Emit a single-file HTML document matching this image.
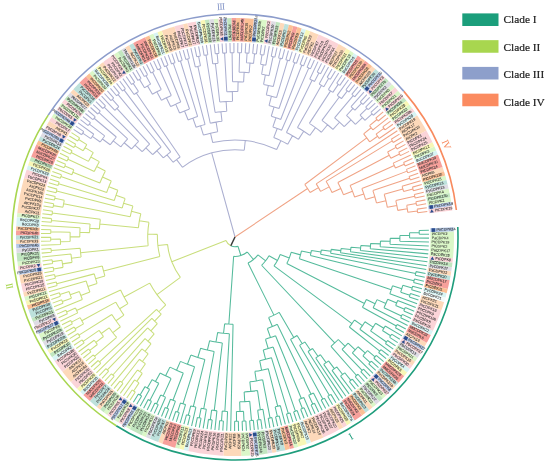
<!DOCTYPE html>
<html><head><meta charset="utf-8"><title>Phylogenetic tree</title>
<style>html,body{margin:0;padding:0;background:#fff;overflow:hidden;} svg{display:block;filter:blur(0.3px);}</style></head>
<body>
<svg width="550" height="468" viewBox="0 0 550 468">
<rect width="550" height="468" fill="#ffffff"/>
<path d="M430.30,228.19L453.78,227.13A219.0,219.0 0 0 1 453.93,231.58L430.44,232.17A195.5,195.5 0 0 0 430.30,228.19ZM404.20,334.94L424.54,346.72A219.0,219.0 0 0 1 422.26,350.55L402.17,338.36A195.5,195.5 0 0 0 404.20,334.94ZM375.50,372.95L392.38,389.29A219.0,219.0 0 0 1 389.25,392.46L372.70,375.78A195.5,195.5 0 0 0 375.50,372.95ZM256.45,431.32L259.03,454.68A219.0,219.0 0 0 1 254.59,455.12L252.49,431.72A195.5,195.5 0 0 0 256.45,431.32ZM137.70,406.57L126.01,426.95A219.0,219.0 0 0 1 122.16,424.69L134.27,404.55A195.5,195.5 0 0 0 137.70,406.57ZM127.54,400.32L114.62,419.95A219.0,219.0 0 0 1 110.92,417.46L124.24,398.10A195.5,195.5 0 0 0 127.54,400.32ZM59.80,323.74L38.74,334.17A219.0,219.0 0 0 1 36.80,330.15L58.07,320.16A195.5,195.5 0 0 0 59.80,323.74ZM42.48,271.00L19.34,275.09A219.0,219.0 0 0 1 18.61,270.69L41.83,267.07A195.5,195.5 0 0 0 42.48,271.00ZM39.77,247.30L16.30,248.53A219.0,219.0 0 0 1 16.11,244.08L39.60,243.32A195.5,195.5 0 0 0 39.77,247.30ZM63.13,143.83L42.47,132.63A219.0,219.0 0 0 1 44.64,128.73L65.06,140.35A195.5,195.5 0 0 0 63.13,143.83ZM73.48,126.85L54.07,113.61A219.0,219.0 0 0 1 56.62,109.95L75.76,123.59A195.5,195.5 0 0 0 73.48,126.85ZM223.96,41.81L222.63,18.35A219.0,219.0 0 0 1 227.09,18.14L227.94,41.63A195.5,195.5 0 0 0 223.96,41.81ZM251.78,42.22L253.80,18.81A219.0,219.0 0 0 1 258.24,19.24L255.74,42.60A195.5,195.5 0 0 0 251.78,42.22ZM363.44,89.61L378.88,71.90A219.0,219.0 0 0 1 382.21,74.86L366.41,92.26A195.5,195.5 0 0 0 363.44,89.61ZM427.94,205.46L451.13,201.67A219.0,219.0 0 0 1 451.80,206.07L428.54,209.39A195.5,195.5 0 0 0 427.94,205.46Z" fill="#b4c8e8"/>
<path d="M430.44,232.17L453.93,231.58A219.0,219.0 0 0 1 454.00,236.04L430.50,236.14A195.5,195.5 0 0 0 430.44,232.17ZM430.50,236.14L454.00,236.04A219.0,219.0 0 0 1 453.97,240.50L430.48,240.12A195.5,195.5 0 0 0 430.50,236.14ZM430.48,240.12L453.97,240.50A219.0,219.0 0 0 1 453.86,244.95L430.37,244.10A195.5,195.5 0 0 0 430.48,240.12ZM430.37,244.10L453.86,244.95A219.0,219.0 0 0 1 453.65,249.40L430.19,248.07A195.5,195.5 0 0 0 430.37,244.10ZM430.19,248.07L453.65,249.40A219.0,219.0 0 0 1 453.35,253.85L429.92,252.04A195.5,195.5 0 0 0 430.19,248.07ZM429.92,252.04L453.35,253.85A219.0,219.0 0 0 1 452.96,258.29L429.57,256.01A195.5,195.5 0 0 0 429.92,252.04ZM397.91,345.08L417.49,358.07A219.0,219.0 0 0 1 414.99,361.76L395.67,348.38A195.5,195.5 0 0 0 397.91,345.08ZM369.85,378.55L386.06,395.56A219.0,219.0 0 0 1 382.80,398.61L366.94,381.26A195.5,195.5 0 0 0 369.85,378.55ZM360.96,386.51L376.10,404.49A219.0,219.0 0 0 1 372.66,407.32L357.89,389.05A195.5,195.5 0 0 0 360.96,386.51ZM291.48,424.16L298.27,446.66A219.0,219.0 0 0 1 293.99,447.90L287.66,425.27A195.5,195.5 0 0 0 291.48,424.16ZM248.53,432.03L250.15,455.48A219.0,219.0 0 0 1 245.70,455.74L244.55,432.27A195.5,195.5 0 0 0 248.53,432.03ZM244.55,432.27L245.70,455.74A219.0,219.0 0 0 1 241.25,455.91L240.58,432.42A195.5,195.5 0 0 0 244.55,432.27ZM185.43,426.11L179.47,448.84A219.0,219.0 0 0 1 175.17,447.67L181.59,425.06A195.5,195.5 0 0 0 185.43,426.11ZM155.43,415.57L145.87,437.04A219.0,219.0 0 0 1 141.81,435.18L151.81,413.92A195.5,195.5 0 0 0 155.43,415.57ZM141.17,408.51L129.89,429.13A219.0,219.0 0 0 1 126.01,426.95L137.70,406.57A195.5,195.5 0 0 0 141.17,408.51ZM130.88,402.47L118.37,422.36A219.0,219.0 0 0 1 114.62,419.95L127.54,400.32A195.5,195.5 0 0 0 130.88,402.47ZM120.98,395.81L107.28,414.90A219.0,219.0 0 0 1 103.68,412.26L117.77,393.46A195.5,195.5 0 0 0 120.98,395.81ZM61.60,327.29L40.75,338.14A219.0,219.0 0 0 1 38.74,334.17L59.80,323.74A195.5,195.5 0 0 0 61.60,327.29ZM48.05,294.19L25.58,301.07A219.0,219.0 0 0 1 24.32,296.79L46.93,290.38A195.5,195.5 0 0 0 48.05,294.19ZM41.26,263.14L17.97,266.28A219.0,219.0 0 0 1 17.42,261.86L40.76,259.19A195.5,195.5 0 0 0 41.26,263.14ZM40.29,219.48L16.88,217.37A219.0,219.0 0 0 1 17.33,212.93L40.68,215.52A195.5,195.5 0 0 0 40.29,219.48ZM71.28,130.16L51.60,117.32A219.0,219.0 0 0 1 54.07,113.61L73.48,126.85A195.5,195.5 0 0 0 71.28,130.16ZM78.10,120.37L59.24,106.35A219.0,219.0 0 0 1 61.93,102.80L80.51,117.20A195.5,195.5 0 0 0 78.10,120.37ZM104.91,91.07L89.27,73.52A219.0,219.0 0 0 1 92.63,70.59L107.91,88.45A195.5,195.5 0 0 0 104.91,91.07ZM126.95,74.08L113.96,54.49A219.0,219.0 0 0 1 117.70,52.07L130.28,71.91A195.5,195.5 0 0 0 126.95,74.08ZM158.43,57.12L149.22,35.50A219.0,219.0 0 0 1 153.34,33.79L162.10,55.60A195.5,195.5 0 0 0 158.43,57.12ZM216.03,42.42L213.75,19.03A219.0,219.0 0 0 1 218.19,18.65L219.99,42.08A195.5,195.5 0 0 0 216.03,42.42ZM255.74,42.60L258.24,19.24A219.0,219.0 0 0 1 262.66,19.75L259.70,43.07A195.5,195.5 0 0 0 255.74,42.60ZM259.70,43.07L262.66,19.75A219.0,219.0 0 0 1 267.08,20.36L263.64,43.61A195.5,195.5 0 0 0 259.70,43.07ZM337.85,70.74L350.22,50.76A219.0,219.0 0 0 1 353.98,53.14L341.22,72.87A195.5,195.5 0 0 0 337.85,70.74ZM375.00,100.55L391.83,84.14A219.0,219.0 0 0 1 394.91,87.37L377.75,103.42A195.5,195.5 0 0 0 375.00,100.55ZM380.44,106.35L397.92,90.65A219.0,219.0 0 0 1 400.86,94.00L383.07,109.34A195.5,195.5 0 0 0 380.44,106.35ZM390.58,118.61L409.28,104.38A219.0,219.0 0 0 1 411.94,107.96L392.96,121.80A195.5,195.5 0 0 0 390.58,118.61ZM412.98,156.10L434.37,146.38A219.0,219.0 0 0 1 436.17,150.46L414.59,159.74A195.5,195.5 0 0 0 412.98,156.10ZM422.66,182.19L445.22,175.60A219.0,219.0 0 0 1 446.42,179.89L423.74,186.02A195.5,195.5 0 0 0 422.66,182.19ZM425.65,193.74L448.57,188.54A219.0,219.0 0 0 1 449.51,192.90L426.50,197.63A195.5,195.5 0 0 0 425.65,193.74ZM427.26,201.54L450.37,197.27A219.0,219.0 0 0 1 451.13,201.67L427.94,205.46A195.5,195.5 0 0 0 427.26,201.54Z" fill="#dbf7c8"/>
<path d="M429.57,256.01L452.96,258.29A219.0,219.0 0 0 1 452.48,262.72L429.15,259.96A195.5,195.5 0 0 0 429.57,256.01ZM419.21,302.49L441.35,310.36A219.0,219.0 0 0 1 439.81,314.54L417.83,306.22A195.5,195.5 0 0 0 419.21,302.49ZM417.83,306.22L439.81,314.54A219.0,219.0 0 0 1 438.19,318.69L416.39,309.93A195.5,195.5 0 0 0 417.83,306.22ZM416.39,309.93L438.19,318.69A219.0,219.0 0 0 1 436.49,322.81L414.87,313.60A195.5,195.5 0 0 0 416.39,309.93ZM414.87,313.60L436.49,322.81A219.0,219.0 0 0 1 434.70,326.90L413.27,317.25A195.5,195.5 0 0 0 414.87,313.60ZM413.27,317.25L434.70,326.90A219.0,219.0 0 0 1 432.83,330.94L411.60,320.86A195.5,195.5 0 0 0 413.27,317.25ZM402.17,338.36L422.26,350.55A219.0,219.0 0 0 1 419.91,354.34L400.07,341.75A195.5,195.5 0 0 0 402.17,338.36ZM393.37,351.62L412.41,365.40A219.0,219.0 0 0 1 409.76,368.98L391.01,354.82A195.5,195.5 0 0 0 393.37,351.62ZM372.70,375.78L389.25,392.46A219.0,219.0 0 0 1 386.06,395.56L369.85,378.55A195.5,195.5 0 0 0 372.70,375.78ZM335.06,404.95L347.09,425.14A219.0,219.0 0 0 1 343.24,427.38L331.62,406.95A195.5,195.5 0 0 0 335.06,404.95ZM328.14,408.89L339.34,429.55A219.0,219.0 0 0 1 335.40,431.63L324.63,410.75A195.5,195.5 0 0 0 328.14,408.89ZM324.63,410.75L335.40,431.63A219.0,219.0 0 0 1 331.42,433.63L321.07,412.53A195.5,195.5 0 0 0 324.63,410.75ZM321.07,412.53L331.42,433.63A219.0,219.0 0 0 1 327.40,435.55L317.48,414.25A195.5,195.5 0 0 0 321.07,412.53ZM317.48,414.25L327.40,435.55A219.0,219.0 0 0 1 323.34,437.39L313.86,415.89A195.5,195.5 0 0 0 317.48,414.25ZM252.49,431.72L254.59,455.12A219.0,219.0 0 0 1 250.15,455.48L248.53,432.03A195.5,195.5 0 0 0 252.49,431.72ZM224.67,432.23L223.43,455.69A219.0,219.0 0 0 1 218.98,455.41L220.70,431.98A195.5,195.5 0 0 0 224.67,432.23ZM220.70,431.98L218.98,455.41A219.0,219.0 0 0 1 214.54,455.04L216.73,431.64A195.5,195.5 0 0 0 220.70,431.98ZM216.73,431.64L214.54,455.04A219.0,219.0 0 0 1 210.11,454.58L212.78,431.23A195.5,195.5 0 0 0 216.73,431.64ZM212.78,431.23L210.11,454.58A219.0,219.0 0 0 1 205.68,454.03L208.83,430.74A195.5,195.5 0 0 0 212.78,431.23ZM208.83,430.74L205.68,454.03A219.0,219.0 0 0 1 201.27,453.39L204.89,430.17A195.5,195.5 0 0 0 208.83,430.74ZM204.89,430.17L201.27,453.39A219.0,219.0 0 0 1 196.88,452.66L200.97,429.52A195.5,195.5 0 0 0 204.89,430.17ZM200.97,429.52L196.88,452.66A219.0,219.0 0 0 1 192.50,451.84L197.06,428.78A195.5,195.5 0 0 0 200.97,429.52ZM197.06,428.78L192.50,451.84A219.0,219.0 0 0 1 188.13,450.93L193.16,427.97A195.5,195.5 0 0 0 197.06,428.78ZM134.27,404.55L122.16,424.69A219.0,219.0 0 0 1 118.37,422.36L130.88,402.47A195.5,195.5 0 0 0 134.27,404.55ZM124.24,398.10L110.92,417.46A219.0,219.0 0 0 1 107.28,414.90L120.98,395.81A195.5,195.5 0 0 0 124.24,398.10ZM93.96,372.39L77.01,388.66A219.0,219.0 0 0 1 73.96,385.41L91.24,369.49A195.5,195.5 0 0 0 93.96,372.39ZM91.24,369.49L73.96,385.41A219.0,219.0 0 0 1 70.97,382.11L88.57,366.53A195.5,195.5 0 0 0 91.24,369.49ZM80.94,357.36L62.42,371.83A219.0,219.0 0 0 1 59.72,368.29L78.52,354.20A195.5,195.5 0 0 0 80.94,357.36ZM78.52,354.20L59.72,368.29A219.0,219.0 0 0 1 57.08,364.69L76.17,350.99A195.5,195.5 0 0 0 78.52,354.20ZM76.17,350.99L57.08,364.69A219.0,219.0 0 0 1 54.52,361.05L73.89,347.74A195.5,195.5 0 0 0 76.17,350.99ZM58.07,320.16L36.80,330.15A219.0,219.0 0 0 1 34.94,326.10L56.41,316.54A195.5,195.5 0 0 0 58.07,320.16ZM45.88,286.54L23.15,292.50A219.0,219.0 0 0 1 22.06,288.17L44.91,282.68A195.5,195.5 0 0 0 45.88,286.54ZM44.91,282.68L22.06,288.17A219.0,219.0 0 0 1 21.07,283.83L44.02,278.80A195.5,195.5 0 0 0 44.91,282.68ZM41.83,267.07L18.61,270.69A219.0,219.0 0 0 1 17.97,266.28L41.26,263.14A195.5,195.5 0 0 0 41.83,267.07ZM46.74,184.30L24.11,177.97A219.0,219.0 0 0 1 25.35,173.69L47.85,180.48A195.5,195.5 0 0 0 46.74,184.30ZM47.85,180.48L25.35,173.69A219.0,219.0 0 0 1 26.68,169.44L49.04,176.69A195.5,195.5 0 0 0 47.85,180.48ZM65.06,140.35L44.64,128.73A219.0,219.0 0 0 1 46.88,124.88L67.06,136.91A195.5,195.5 0 0 0 65.06,140.35ZM69.14,133.51L49.20,121.07A219.0,219.0 0 0 1 51.60,117.32L71.28,130.16A195.5,195.5 0 0 0 69.14,133.51ZM75.76,123.59L56.62,109.95A219.0,219.0 0 0 1 59.24,106.35L78.10,120.37A195.5,195.5 0 0 0 75.76,123.59ZM80.51,117.20L61.93,102.80A219.0,219.0 0 0 1 64.70,99.31L82.98,114.08A195.5,195.5 0 0 0 80.51,117.20ZM117.21,80.97L103.05,62.22A219.0,219.0 0 0 1 106.63,59.57L120.41,78.61A195.5,195.5 0 0 0 117.21,80.97ZM120.41,78.61L106.63,59.57A219.0,219.0 0 0 1 110.27,56.99L123.65,76.31A195.5,195.5 0 0 0 120.41,78.61ZM123.65,76.31L110.27,56.99A219.0,219.0 0 0 1 113.96,54.49L126.95,74.08A195.5,195.5 0 0 0 123.65,76.31ZM180.91,49.13L174.40,26.55A219.0,219.0 0 0 1 178.70,25.36L184.74,48.07A195.5,195.5 0 0 0 180.91,49.13ZM184.74,48.07L178.70,25.36A219.0,219.0 0 0 1 183.02,24.26L188.60,47.09A195.5,195.5 0 0 0 184.74,48.07ZM192.47,46.18L187.36,23.25A219.0,219.0 0 0 1 191.72,22.32L196.36,45.36A195.5,195.5 0 0 0 192.47,46.18ZM196.36,45.36L191.72,22.32A219.0,219.0 0 0 1 196.09,21.48L200.27,44.61A195.5,195.5 0 0 0 196.36,45.36ZM219.99,42.08L218.19,18.65A219.0,219.0 0 0 1 222.63,18.35L223.96,41.81A195.5,195.5 0 0 0 219.99,42.08ZM263.64,43.61L267.08,20.36A219.0,219.0 0 0 1 271.48,21.06L267.57,44.23A195.5,195.5 0 0 0 263.64,43.61ZM309.55,56.27L318.51,34.55A219.0,219.0 0 0 1 322.61,36.29L313.21,57.83A195.5,195.5 0 0 0 309.55,56.27ZM313.21,57.83L322.61,36.29A219.0,219.0 0 0 1 326.68,38.11L316.84,59.45A195.5,195.5 0 0 0 313.21,57.83ZM316.84,59.45L326.68,38.11A219.0,219.0 0 0 1 330.70,40.02L320.43,61.16A195.5,195.5 0 0 0 316.84,59.45ZM320.43,61.16L330.70,40.02A219.0,219.0 0 0 1 334.69,42.01L324.00,62.93A195.5,195.5 0 0 0 320.43,61.16ZM324.00,62.93L334.69,42.01A219.0,219.0 0 0 1 338.64,44.08L327.52,64.78A195.5,195.5 0 0 0 324.00,62.93ZM366.41,92.26L382.21,74.86A219.0,219.0 0 0 1 385.48,77.89L369.33,94.96A195.5,195.5 0 0 0 366.41,92.26ZM377.75,103.42L394.91,87.37A219.0,219.0 0 0 1 397.92,90.65L380.44,106.35A195.5,195.5 0 0 0 377.75,103.42ZM383.07,109.34L400.86,94.00A219.0,219.0 0 0 1 403.74,97.40L385.63,112.38A195.5,195.5 0 0 0 383.07,109.34ZM392.96,121.80L411.94,107.96A219.0,219.0 0 0 1 414.53,111.58L395.27,125.04A195.5,195.5 0 0 0 392.96,121.80ZM405.81,141.90L426.34,130.47A219.0,219.0 0 0 1 428.47,134.38L407.71,145.40A195.5,195.5 0 0 0 405.81,141.90ZM407.71,145.40L428.47,134.38A219.0,219.0 0 0 1 430.52,138.34L409.54,148.93A195.5,195.5 0 0 0 407.71,145.40ZM409.54,148.93L430.52,138.34A219.0,219.0 0 0 1 432.49,142.34L411.29,152.50A195.5,195.5 0 0 0 409.54,148.93ZM428.54,209.39L451.80,206.07A219.0,219.0 0 0 1 452.39,210.49L429.06,213.33A195.5,195.5 0 0 0 428.54,209.39Z" fill="#fbd4d8"/>
<path d="M429.15,259.96L452.48,262.72A219.0,219.0 0 0 1 451.92,267.14L428.64,263.91A195.5,195.5 0 0 0 429.15,259.96ZM366.94,381.26L382.80,398.61A219.0,219.0 0 0 1 379.48,401.58L363.98,383.92A195.5,195.5 0 0 0 366.94,381.26ZM264.34,430.29L267.87,453.52A219.0,219.0 0 0 1 263.45,454.14L260.40,430.84A195.5,195.5 0 0 0 264.34,430.29ZM260.40,430.84L263.45,454.14A219.0,219.0 0 0 1 259.03,454.68L256.45,431.32A195.5,195.5 0 0 0 260.40,430.84ZM151.81,413.92L141.81,435.18A219.0,219.0 0 0 1 137.80,433.25L148.23,412.19A195.5,195.5 0 0 0 151.81,413.92ZM148.23,412.19L137.80,433.25A219.0,219.0 0 0 1 133.83,431.23L144.68,410.39A195.5,195.5 0 0 0 148.23,412.19ZM144.68,410.39L133.83,431.23A219.0,219.0 0 0 1 129.89,429.13L141.17,408.51A195.5,195.5 0 0 0 144.68,410.39ZM117.77,393.46L103.68,412.26A219.0,219.0 0 0 1 100.14,409.55L114.61,391.04A195.5,195.5 0 0 0 117.77,393.46ZM71.67,344.43L52.03,357.35A219.0,219.0 0 0 1 49.62,353.60L69.51,341.09A195.5,195.5 0 0 0 71.67,344.43ZM63.47,330.80L42.85,342.07A219.0,219.0 0 0 1 40.75,338.14L61.60,327.29A195.5,195.5 0 0 0 63.47,330.80ZM54.83,312.89L33.17,322.01A219.0,219.0 0 0 1 31.48,317.89L53.32,309.21A195.5,195.5 0 0 0 54.83,312.89ZM40.76,259.19L17.42,261.86A219.0,219.0 0 0 1 16.95,257.42L40.35,255.23A195.5,195.5 0 0 0 40.76,259.19ZM40.35,255.23L16.95,257.42A219.0,219.0 0 0 1 16.58,252.98L40.02,251.27A195.5,195.5 0 0 0 40.35,255.23ZM51.64,169.17L29.60,161.02A219.0,219.0 0 0 1 31.19,156.85L53.06,165.45A195.5,195.5 0 0 0 51.64,169.17ZM82.98,114.08L64.70,99.31A219.0,219.0 0 0 1 67.54,95.87L85.51,111.01A195.5,195.5 0 0 0 82.98,114.08ZM130.28,71.91L117.70,52.07A219.0,219.0 0 0 1 121.48,49.72L133.66,69.81A195.5,195.5 0 0 0 130.28,71.91ZM208.13,43.36L204.90,20.08A219.0,219.0 0 0 1 209.32,19.51L212.07,42.85A195.5,195.5 0 0 0 208.13,43.36ZM227.94,41.63L227.09,18.14A219.0,219.0 0 0 1 231.54,18.03L231.91,41.52A195.5,195.5 0 0 0 227.94,41.63ZM271.48,44.93L275.87,21.85A219.0,219.0 0 0 1 280.24,22.72L275.38,45.72A195.5,195.5 0 0 0 271.48,44.93ZM369.33,94.96L385.48,77.89A219.0,219.0 0 0 1 388.69,80.98L372.20,97.72A195.5,195.5 0 0 0 369.33,94.96ZM385.63,112.38L403.74,97.40A219.0,219.0 0 0 1 406.55,100.86L388.14,115.47A195.5,195.5 0 0 0 385.63,112.38ZM426.50,197.63L449.51,192.90A219.0,219.0 0 0 1 450.37,197.27L427.26,201.54A195.5,195.5 0 0 0 426.50,197.63Z" fill="#c2e6c0"/>
<path d="M428.64,263.91L451.92,267.14A219.0,219.0 0 0 1 451.26,271.55L428.05,267.84A195.5,195.5 0 0 0 428.64,263.91ZM400.07,341.75L419.91,354.34A219.0,219.0 0 0 1 417.49,358.07L397.91,345.08A195.5,195.5 0 0 0 400.07,341.75ZM363.98,383.92L379.48,401.58A219.0,219.0 0 0 1 376.10,404.49L360.96,386.51A195.5,195.5 0 0 0 363.98,383.92ZM268.27,429.65L272.26,452.81A219.0,219.0 0 0 1 267.87,453.52L264.34,430.29A195.5,195.5 0 0 0 268.27,429.65ZM159.08,417.16L149.95,438.81A219.0,219.0 0 0 1 145.87,437.04L155.43,415.57A195.5,195.5 0 0 0 159.08,417.16ZM65.41,334.27L45.03,345.96A219.0,219.0 0 0 1 42.85,342.07L63.47,330.80A195.5,195.5 0 0 0 65.41,334.27ZM56.41,316.54L34.94,326.10A219.0,219.0 0 0 1 33.17,322.01L54.83,312.89A195.5,195.5 0 0 0 56.41,316.54ZM40.02,251.27L16.58,252.98A219.0,219.0 0 0 1 16.30,248.53L39.77,247.30A195.5,195.5 0 0 0 40.02,251.27ZM61.27,147.34L40.39,136.57A219.0,219.0 0 0 1 42.47,132.63L63.13,143.83A195.5,195.5 0 0 0 61.27,147.34ZM85.51,111.01L67.54,95.87A219.0,219.0 0 0 1 70.45,92.49L88.10,108.00A195.5,195.5 0 0 0 85.51,111.01ZM133.66,69.81L121.48,49.72A219.0,219.0 0 0 1 125.32,47.45L137.09,67.79A195.5,195.5 0 0 0 133.66,69.81ZM212.07,42.85L209.32,19.51A219.0,219.0 0 0 1 213.75,19.03L216.03,42.42A195.5,195.5 0 0 0 212.07,42.85ZM267.57,44.23L271.48,21.06A219.0,219.0 0 0 1 275.87,21.85L271.48,44.93A195.5,195.5 0 0 0 267.57,44.23ZM372.20,97.72L388.69,80.98A219.0,219.0 0 0 1 391.83,84.14L375.00,100.55A195.5,195.5 0 0 0 372.20,97.72ZM424.73,189.87L447.54,184.21A219.0,219.0 0 0 1 448.57,188.54L425.65,193.74A195.5,195.5 0 0 0 424.73,189.87Z" fill="#dedce4"/>
<path d="M428.05,267.84L451.26,271.55A219.0,219.0 0 0 1 450.51,275.94L427.38,271.76A195.5,195.5 0 0 0 428.05,267.84ZM421.72,294.94L444.16,301.90A219.0,219.0 0 0 1 442.80,306.15L420.50,298.73A195.5,195.5 0 0 0 421.72,294.94ZM420.50,298.73L442.80,306.15A219.0,219.0 0 0 1 441.35,310.36L419.21,302.49A195.5,195.5 0 0 0 420.50,298.73ZM406.15,331.48L426.73,342.84A219.0,219.0 0 0 1 424.54,346.72L404.20,334.94A195.5,195.5 0 0 0 406.15,331.48ZM395.67,348.38L414.99,361.76A219.0,219.0 0 0 1 412.41,365.40L393.37,351.62A195.5,195.5 0 0 0 395.67,348.38ZM378.23,370.06L395.45,386.05A219.0,219.0 0 0 1 392.38,389.29L375.50,372.95A195.5,195.5 0 0 0 378.23,370.06ZM357.89,389.05L372.66,407.32A219.0,219.0 0 0 1 369.17,410.09L354.77,391.52A195.5,195.5 0 0 0 357.89,389.05ZM331.62,406.95L343.24,427.38A219.0,219.0 0 0 1 339.34,429.55L328.14,408.89A195.5,195.5 0 0 0 331.62,406.95ZM313.86,415.89L323.34,437.39A219.0,219.0 0 0 1 319.24,439.15L310.20,417.46A195.5,195.5 0 0 0 313.86,415.89ZM310.20,417.46L319.24,439.15A219.0,219.0 0 0 1 315.11,440.82L306.51,418.95A195.5,195.5 0 0 0 310.20,417.46ZM306.51,418.95L315.11,440.82A219.0,219.0 0 0 1 310.95,442.41L302.80,420.37A195.5,195.5 0 0 0 306.51,418.95ZM272.18,428.93L276.65,452.00A219.0,219.0 0 0 1 272.26,452.81L268.27,429.65A195.5,195.5 0 0 0 272.18,428.93ZM240.58,432.42L241.25,455.91A219.0,219.0 0 0 1 236.79,455.99L236.60,432.49A195.5,195.5 0 0 0 240.58,432.42ZM236.60,432.49L236.79,455.99A219.0,219.0 0 0 1 232.34,455.98L232.62,432.49A195.5,195.5 0 0 0 236.60,432.49ZM232.62,432.49L232.34,455.98A219.0,219.0 0 0 1 227.88,455.88L228.64,432.40A195.5,195.5 0 0 0 232.62,432.49ZM228.64,432.40L227.88,455.88A219.0,219.0 0 0 1 223.43,455.69L224.67,432.23A195.5,195.5 0 0 0 228.64,432.40ZM170.21,421.45L162.43,443.63A219.0,219.0 0 0 1 158.24,442.11L166.47,420.10A195.5,195.5 0 0 0 170.21,421.45ZM114.61,391.04L100.14,409.55A219.0,219.0 0 0 1 96.66,406.77L111.50,388.56A195.5,195.5 0 0 0 114.61,391.04ZM88.57,366.53L70.97,382.11A219.0,219.0 0 0 1 68.05,378.74L85.97,363.53A195.5,195.5 0 0 0 88.57,366.53ZM85.97,363.53L68.05,378.74A219.0,219.0 0 0 1 65.20,375.31L83.42,360.47A195.5,195.5 0 0 0 85.97,363.53ZM83.42,360.47L65.20,375.31A219.0,219.0 0 0 1 62.42,371.83L80.94,357.36A195.5,195.5 0 0 0 83.42,360.47ZM46.93,290.38L24.32,296.79A219.0,219.0 0 0 1 23.15,292.50L45.88,286.54A195.5,195.5 0 0 0 46.93,290.38ZM44.02,278.80L21.07,283.83A219.0,219.0 0 0 1 20.16,279.47L43.21,274.91A195.5,195.5 0 0 0 44.02,278.80ZM43.21,274.91L20.16,279.47A219.0,219.0 0 0 1 19.34,275.09L42.48,271.00A195.5,195.5 0 0 0 43.21,274.91ZM39.60,243.32L16.11,244.08A219.0,219.0 0 0 1 16.02,239.63L39.51,239.34A195.5,195.5 0 0 0 39.60,243.32ZM40.68,215.52L17.33,212.93A219.0,219.0 0 0 1 17.86,208.51L41.16,211.57A195.5,195.5 0 0 0 40.68,215.52ZM41.16,211.57L17.86,208.51A219.0,219.0 0 0 1 18.49,204.10L41.72,207.63A195.5,195.5 0 0 0 41.16,211.57ZM41.72,207.63L18.49,204.10A219.0,219.0 0 0 1 19.20,199.70L42.36,203.70A195.5,195.5 0 0 0 41.72,207.63ZM42.36,203.70L19.20,199.70A219.0,219.0 0 0 1 20.00,195.31L43.07,199.79A195.5,195.5 0 0 0 42.36,203.70ZM43.07,199.79L20.00,195.31A219.0,219.0 0 0 1 20.90,190.95L43.87,195.89A195.5,195.5 0 0 0 43.07,199.79ZM43.87,195.89L20.90,190.95A219.0,219.0 0 0 1 21.88,186.60L44.75,192.01A195.5,195.5 0 0 0 43.87,195.89ZM44.75,192.01L21.88,186.60A219.0,219.0 0 0 1 22.95,182.27L45.70,188.15A195.5,195.5 0 0 0 44.75,192.01ZM45.70,188.15L22.95,182.27A219.0,219.0 0 0 1 24.11,177.97L46.74,184.30A195.5,195.5 0 0 0 45.70,188.15ZM67.06,136.91L46.88,124.88A219.0,219.0 0 0 1 49.20,121.07L69.14,133.51A195.5,195.5 0 0 0 67.06,136.91ZM88.10,108.00L70.45,92.49A219.0,219.0 0 0 1 73.42,89.17L90.76,105.04A195.5,195.5 0 0 0 88.10,108.00ZM114.06,83.40L99.52,64.94A219.0,219.0 0 0 1 103.05,62.22L117.21,80.97A195.5,195.5 0 0 0 114.06,83.40ZM137.09,67.79L125.32,47.45A219.0,219.0 0 0 1 129.20,45.25L140.55,65.83A195.5,195.5 0 0 0 137.09,67.79ZM169.54,52.78L161.68,30.64A219.0,219.0 0 0 1 165.89,29.19L173.31,51.49A195.5,195.5 0 0 0 169.54,52.78ZM173.31,51.49L165.89,29.19A219.0,219.0 0 0 1 170.13,27.83L177.09,50.27A195.5,195.5 0 0 0 173.31,51.49ZM177.09,50.27L170.13,27.83A219.0,219.0 0 0 1 174.40,26.55L180.91,49.13A195.5,195.5 0 0 0 177.09,50.27ZM188.60,47.09L183.02,24.26A219.0,219.0 0 0 1 187.36,23.25L192.47,46.18A195.5,195.5 0 0 0 188.60,47.09ZM275.38,45.72L280.24,22.72A219.0,219.0 0 0 1 284.59,23.69L279.27,46.58A195.5,195.5 0 0 0 275.38,45.72ZM302.13,53.39L310.20,31.32A219.0,219.0 0 0 1 314.37,32.89L305.85,54.79A195.5,195.5 0 0 0 302.13,53.39ZM305.85,54.79L314.37,32.89A219.0,219.0 0 0 1 318.51,34.55L309.55,56.27A195.5,195.5 0 0 0 305.85,54.79ZM327.52,64.78L338.64,44.08A219.0,219.0 0 0 1 342.54,46.22L331.00,66.70A195.5,195.5 0 0 0 327.52,64.78ZM331.00,66.70L342.54,46.22A219.0,219.0 0 0 1 346.40,48.45L334.45,68.68A195.5,195.5 0 0 0 331.00,66.70ZM357.34,84.51L372.04,66.18A219.0,219.0 0 0 1 375.49,69.00L360.42,87.03A195.5,195.5 0 0 0 357.34,84.51ZM397.51,128.33L417.05,115.26A219.0,219.0 0 0 1 419.49,118.99L399.69,131.66A195.5,195.5 0 0 0 397.51,128.33ZM399.69,131.66L419.49,118.99A219.0,219.0 0 0 1 421.85,122.77L401.80,135.03A195.5,195.5 0 0 0 399.69,131.66ZM401.80,135.03L421.85,122.77A219.0,219.0 0 0 1 424.14,126.60L403.84,138.44A195.5,195.5 0 0 0 401.80,135.03ZM403.84,138.44L424.14,126.60A219.0,219.0 0 0 1 426.34,130.47L405.81,141.90A195.5,195.5 0 0 0 403.84,138.44ZM420.27,174.60L442.55,167.10A219.0,219.0 0 0 1 443.92,171.34L421.51,178.38A195.5,195.5 0 0 0 420.27,174.60Z" fill="#fdd9ba"/>
<path d="M427.38,271.76L450.51,275.94A219.0,219.0 0 0 1 449.67,280.32L426.64,275.67A195.5,195.5 0 0 0 427.38,271.76ZM380.91,367.12L398.45,382.76A219.0,219.0 0 0 1 395.45,386.05L378.23,370.06A195.5,195.5 0 0 0 380.91,367.12ZM354.77,391.52L369.17,410.09A219.0,219.0 0 0 1 365.62,412.78L351.60,393.92A195.5,195.5 0 0 0 354.77,391.52ZM279.96,427.26L285.36,450.13A219.0,219.0 0 0 1 281.01,451.11L276.08,428.14A195.5,195.5 0 0 0 279.96,427.26ZM276.08,428.14L281.01,451.11A219.0,219.0 0 0 1 276.65,452.00L272.18,428.93A195.5,195.5 0 0 0 276.08,428.14ZM166.47,420.10L158.24,442.11A219.0,219.0 0 0 1 154.08,440.50L162.76,418.66A195.5,195.5 0 0 0 166.47,420.10ZM162.76,418.66L154.08,440.50A219.0,219.0 0 0 1 149.95,438.81L159.08,417.16A195.5,195.5 0 0 0 162.76,418.66ZM111.50,388.56L96.66,406.77A219.0,219.0 0 0 1 93.23,403.92L108.45,386.01A195.5,195.5 0 0 0 111.50,388.56ZM108.45,386.01L93.23,403.92A219.0,219.0 0 0 1 89.87,401.00L105.44,383.41A195.5,195.5 0 0 0 108.45,386.01ZM67.43,337.70L47.29,349.80A219.0,219.0 0 0 1 45.03,345.96L65.41,334.27A195.5,195.5 0 0 0 67.43,337.70ZM53.32,309.21L31.48,317.89A219.0,219.0 0 0 1 29.88,313.73L51.89,305.49A195.5,195.5 0 0 0 53.32,309.21ZM51.89,305.49L29.88,313.73A219.0,219.0 0 0 1 28.36,309.54L50.54,301.75A195.5,195.5 0 0 0 51.89,305.49ZM39.51,239.34L16.02,239.63A219.0,219.0 0 0 1 16.01,235.17L39.51,235.37A195.5,195.5 0 0 0 39.51,239.34ZM59.48,150.90L38.38,140.55A219.0,219.0 0 0 1 40.39,136.57L61.27,147.34A195.5,195.5 0 0 0 59.48,150.90ZM90.76,105.04L73.42,89.17A219.0,219.0 0 0 1 76.46,85.92L93.47,102.13A195.5,195.5 0 0 0 90.76,105.04ZM93.47,102.13L76.46,85.92A219.0,219.0 0 0 1 79.57,82.72L96.25,99.28A195.5,195.5 0 0 0 93.47,102.13ZM140.55,65.83L129.20,45.25A219.0,219.0 0 0 1 133.12,43.14L144.05,63.94A195.5,195.5 0 0 0 140.55,65.83ZM279.27,46.58L284.59,23.69A219.0,219.0 0 0 1 288.92,24.74L283.13,47.52A195.5,195.5 0 0 0 279.27,46.58ZM360.42,87.03L375.49,69.00A219.0,219.0 0 0 1 378.88,71.90L363.44,89.61A195.5,195.5 0 0 0 360.42,87.03ZM423.74,186.02L446.42,179.89A219.0,219.0 0 0 1 447.54,184.21L424.73,189.87A195.5,195.5 0 0 0 423.74,186.02Z" fill="#bde1dc"/>
<path d="M426.64,275.67L449.67,280.32A219.0,219.0 0 0 1 448.75,284.68L425.81,279.56A195.5,195.5 0 0 0 426.64,275.67ZM425.81,279.56L448.75,284.68A219.0,219.0 0 0 1 447.73,289.02L424.90,283.44A195.5,195.5 0 0 0 425.81,279.56ZM409.86,324.44L430.88,334.95A219.0,219.0 0 0 1 428.84,338.91L408.04,327.98A195.5,195.5 0 0 0 409.86,324.44ZM408.04,327.98L428.84,338.91A219.0,219.0 0 0 1 426.73,342.84L406.15,331.48A195.5,195.5 0 0 0 408.04,327.98ZM386.08,361.07L404.25,375.99A219.0,219.0 0 0 1 401.38,379.40L383.53,364.12A195.5,195.5 0 0 0 386.08,361.07ZM383.53,364.12L401.38,379.40A219.0,219.0 0 0 1 398.45,382.76L380.91,367.12A195.5,195.5 0 0 0 383.53,364.12ZM348.39,396.26L362.02,415.40A219.0,219.0 0 0 1 358.36,417.95L345.12,398.53A195.5,195.5 0 0 0 348.39,396.26ZM345.12,398.53L358.36,417.95A219.0,219.0 0 0 1 354.65,420.42L341.81,400.74A195.5,195.5 0 0 0 345.12,398.53ZM287.66,425.27L293.99,447.90A219.0,219.0 0 0 1 289.69,449.06L283.82,426.31A195.5,195.5 0 0 0 287.66,425.27ZM181.59,425.06L175.17,447.67A219.0,219.0 0 0 1 170.89,446.41L177.77,423.94A195.5,195.5 0 0 0 181.59,425.06ZM177.77,423.94L170.89,446.41A219.0,219.0 0 0 1 166.65,445.06L173.98,422.73A195.5,195.5 0 0 0 177.77,423.94ZM173.98,422.73L166.65,445.06A219.0,219.0 0 0 1 162.43,443.63L170.21,421.45A195.5,195.5 0 0 0 173.98,422.73ZM105.44,383.41L89.87,401.00A219.0,219.0 0 0 1 86.56,398.02L102.49,380.74A195.5,195.5 0 0 0 105.44,383.41ZM102.49,380.74L86.56,398.02A219.0,219.0 0 0 1 83.31,394.96L99.59,378.01A195.5,195.5 0 0 0 102.49,380.74ZM39.51,235.37L16.01,235.17A219.0,219.0 0 0 1 16.09,230.71L39.58,231.39A195.5,195.5 0 0 0 39.51,235.37ZM53.06,165.45L31.19,156.85A219.0,219.0 0 0 1 32.87,152.72L54.56,161.77A195.5,195.5 0 0 0 53.06,165.45ZM54.56,161.77L32.87,152.72A219.0,219.0 0 0 1 34.62,148.63L56.12,158.11A195.5,195.5 0 0 0 54.56,161.77ZM56.12,158.11L34.62,148.63A219.0,219.0 0 0 1 36.46,144.57L57.77,154.49A195.5,195.5 0 0 0 56.12,158.11ZM96.25,99.28L79.57,82.72A219.0,219.0 0 0 1 82.74,79.59L99.08,96.48A195.5,195.5 0 0 0 96.25,99.28ZM99.08,96.48L82.74,79.59A219.0,219.0 0 0 1 85.98,76.52L101.97,93.74A195.5,195.5 0 0 0 99.08,96.48ZM144.05,63.94L133.12,43.14A219.0,219.0 0 0 1 137.09,41.11L147.59,62.13A195.5,195.5 0 0 0 144.05,63.94ZM147.59,62.13L137.09,41.11A219.0,219.0 0 0 1 141.09,39.15L151.17,60.38A195.5,195.5 0 0 0 147.59,62.13ZM151.17,60.38L141.09,39.15A219.0,219.0 0 0 1 145.14,37.28L154.78,58.72A195.5,195.5 0 0 0 151.17,60.38ZM231.91,41.52L231.54,18.03A219.0,219.0 0 0 1 236.00,18.00L235.89,41.50A195.5,195.5 0 0 0 231.91,41.52ZM239.87,41.56L240.45,18.07A219.0,219.0 0 0 1 244.91,18.22L243.84,41.70A195.5,195.5 0 0 0 239.87,41.56ZM286.98,48.54L293.23,25.88A219.0,219.0 0 0 1 297.51,27.11L290.80,49.63A195.5,195.5 0 0 0 286.98,48.54ZM344.53,75.07L357.70,55.60A219.0,219.0 0 0 1 361.37,58.14L347.81,77.33A195.5,195.5 0 0 0 344.53,75.07ZM351.03,79.66L364.98,60.74A219.0,219.0 0 0 1 368.54,63.43L354.21,82.05A195.5,195.5 0 0 0 351.03,79.66ZM416.12,163.41L437.89,154.57A219.0,219.0 0 0 1 439.53,158.71L417.58,167.11A195.5,195.5 0 0 0 416.12,163.41ZM417.58,167.11L439.53,158.71A219.0,219.0 0 0 1 441.08,162.89L418.97,170.84A195.5,195.5 0 0 0 417.58,167.11ZM418.97,170.84L441.08,162.89A219.0,219.0 0 0 1 442.55,167.10L420.27,174.60A195.5,195.5 0 0 0 418.97,170.84Z" fill="#f7a09b"/>
<path d="M424.90,283.44L447.73,289.02A219.0,219.0 0 0 1 446.63,293.34L423.92,287.29A195.5,195.5 0 0 0 424.90,283.44ZM351.60,393.92L365.62,412.78A219.0,219.0 0 0 1 362.02,415.40L348.39,396.26A195.5,195.5 0 0 0 351.60,393.92ZM283.82,426.31L289.69,449.06A219.0,219.0 0 0 1 285.36,450.13L279.96,427.26A195.5,195.5 0 0 0 283.82,426.31ZM50.54,301.75L28.36,309.54A219.0,219.0 0 0 1 26.93,305.32L49.26,297.99A195.5,195.5 0 0 0 50.54,301.75ZM39.58,231.39L16.09,230.71A219.0,219.0 0 0 1 16.26,226.26L39.74,227.41A195.5,195.5 0 0 0 39.58,231.39ZM57.77,154.49L36.46,144.57A219.0,219.0 0 0 1 38.38,140.55L59.48,150.90A195.5,195.5 0 0 0 57.77,154.49ZM101.97,93.74L85.98,76.52A219.0,219.0 0 0 1 89.27,73.52L104.91,91.07A195.5,195.5 0 0 0 101.97,93.74ZM154.78,58.72L145.14,37.28A219.0,219.0 0 0 1 149.22,35.50L158.43,57.12A195.5,195.5 0 0 0 154.78,58.72ZM235.89,41.50L236.00,18.00A219.0,219.0 0 0 1 240.45,18.07L239.87,41.56A195.5,195.5 0 0 0 235.89,41.50ZM243.84,41.70L244.91,18.22A219.0,219.0 0 0 1 249.36,18.47L247.82,41.92A195.5,195.5 0 0 0 243.84,41.70ZM247.82,41.92L249.36,18.47A219.0,219.0 0 0 1 253.80,18.81L251.78,42.22A195.5,195.5 0 0 0 247.82,41.92ZM283.13,47.52L288.92,24.74A219.0,219.0 0 0 1 293.23,25.88L286.98,48.54A195.5,195.5 0 0 0 283.13,47.52ZM290.80,49.63L297.51,27.11A219.0,219.0 0 0 1 301.77,28.43L294.60,50.81A195.5,195.5 0 0 0 290.80,49.63ZM347.81,77.33L361.37,58.14A219.0,219.0 0 0 1 364.98,60.74L351.03,79.66A195.5,195.5 0 0 0 347.81,77.33ZM354.21,82.05L368.54,63.43A219.0,219.0 0 0 1 372.04,66.18L357.34,84.51A195.5,195.5 0 0 0 354.21,82.05ZM421.51,178.38L443.92,171.34A219.0,219.0 0 0 1 445.22,175.60L422.66,182.19A195.5,195.5 0 0 0 421.51,178.38Z" fill="#fbc095"/>
<path d="M423.92,287.29L446.63,293.34A219.0,219.0 0 0 1 445.44,297.63L422.86,291.13A195.5,195.5 0 0 0 423.92,287.29ZM411.60,320.86L432.83,330.94A219.0,219.0 0 0 1 430.88,334.95L409.86,324.44A195.5,195.5 0 0 0 411.60,320.86ZM391.01,354.82L409.76,368.98A219.0,219.0 0 0 1 407.04,372.51L388.58,357.97A195.5,195.5 0 0 0 391.01,354.82ZM341.81,400.74L354.65,420.42A219.0,219.0 0 0 1 350.89,422.82L338.46,402.88A195.5,195.5 0 0 0 341.81,400.74ZM302.80,420.37L310.95,442.41A219.0,219.0 0 0 1 306.75,443.91L299.05,421.71A195.5,195.5 0 0 0 302.80,420.37ZM193.16,427.97L188.13,450.93A219.0,219.0 0 0 1 183.79,449.93L189.29,427.08A195.5,195.5 0 0 0 193.16,427.97ZM99.59,378.01L83.31,394.96A219.0,219.0 0 0 1 80.13,391.84L96.75,375.23A195.5,195.5 0 0 0 99.59,378.01ZM73.89,347.74L54.52,361.05A219.0,219.0 0 0 1 52.03,357.35L71.67,344.43A195.5,195.5 0 0 0 73.89,347.74ZM39.74,227.41L16.26,226.26A219.0,219.0 0 0 1 16.53,221.81L39.97,223.44A195.5,195.5 0 0 0 39.74,227.41ZM39.97,223.44L16.53,221.81A219.0,219.0 0 0 1 16.88,217.37L40.29,219.48A195.5,195.5 0 0 0 39.97,223.44ZM49.04,176.69L26.68,169.44A219.0,219.0 0 0 1 28.10,165.21L50.30,172.92A195.5,195.5 0 0 0 49.04,176.69ZM107.91,88.45L92.63,70.59A219.0,219.0 0 0 1 96.04,67.73L110.96,85.89A195.5,195.5 0 0 0 107.91,88.45ZM162.10,55.60L153.34,33.79A219.0,219.0 0 0 1 157.49,32.17L165.81,54.15A195.5,195.5 0 0 0 162.10,55.60ZM200.27,44.61L196.09,21.48A219.0,219.0 0 0 1 200.49,20.74L204.19,43.94A195.5,195.5 0 0 0 200.27,44.61ZM294.60,50.81L301.77,28.43A219.0,219.0 0 0 1 306.00,29.83L298.38,52.06A195.5,195.5 0 0 0 294.60,50.81ZM341.22,72.87L353.98,53.14A219.0,219.0 0 0 1 357.70,55.60L344.53,75.07A195.5,195.5 0 0 0 341.22,72.87ZM395.27,125.04L414.53,111.58A219.0,219.0 0 0 1 417.05,115.26L397.51,128.33A195.5,195.5 0 0 0 395.27,125.04ZM414.59,159.74L436.17,150.46A219.0,219.0 0 0 1 437.89,154.57L416.12,163.41A195.5,195.5 0 0 0 414.59,159.74Z" fill="#d8f4f4"/>
<path d="M422.86,291.13L445.44,297.63A219.0,219.0 0 0 1 444.16,301.90L421.72,294.94A195.5,195.5 0 0 0 422.86,291.13Z" fill="#f4fbfb"/>
<path d="M388.58,357.97L407.04,372.51A219.0,219.0 0 0 1 404.25,375.99L386.08,361.07A195.5,195.5 0 0 0 388.58,357.97ZM338.46,402.88L350.89,422.82A219.0,219.0 0 0 1 347.09,425.14L335.06,404.95A195.5,195.5 0 0 0 338.46,402.88ZM299.05,421.71L306.75,443.91A219.0,219.0 0 0 1 302.53,445.33L295.28,422.97A195.5,195.5 0 0 0 299.05,421.71ZM295.28,422.97L302.53,445.33A219.0,219.0 0 0 1 298.27,446.66L291.48,424.16A195.5,195.5 0 0 0 295.28,422.97ZM189.29,427.08L183.79,449.93A219.0,219.0 0 0 1 179.47,448.84L185.43,426.11A195.5,195.5 0 0 0 189.29,427.08ZM96.75,375.23L80.13,391.84A219.0,219.0 0 0 1 77.01,388.66L93.96,372.39A195.5,195.5 0 0 0 96.75,375.23ZM69.51,341.09L49.62,353.60A219.0,219.0 0 0 1 47.29,349.80L67.43,337.70A195.5,195.5 0 0 0 69.51,341.09ZM49.26,297.99L26.93,305.32A219.0,219.0 0 0 1 25.58,301.07L48.05,294.19A195.5,195.5 0 0 0 49.26,297.99ZM50.30,172.92L28.10,165.21A219.0,219.0 0 0 1 29.60,161.02L51.64,169.17A195.5,195.5 0 0 0 50.30,172.92ZM110.96,85.89L96.04,67.73A219.0,219.0 0 0 1 99.52,64.94L114.06,83.40A195.5,195.5 0 0 0 110.96,85.89ZM165.81,54.15L157.49,32.17A219.0,219.0 0 0 1 161.68,30.64L169.54,52.78A195.5,195.5 0 0 0 165.81,54.15ZM204.19,43.94L200.49,20.74A219.0,219.0 0 0 1 204.90,20.08L208.13,43.36A195.5,195.5 0 0 0 204.19,43.94ZM298.38,52.06L306.00,29.83A219.0,219.0 0 0 1 310.20,31.32L302.13,53.39A195.5,195.5 0 0 0 298.38,52.06ZM334.45,68.68L346.40,48.45A219.0,219.0 0 0 1 350.22,50.76L337.85,70.74A195.5,195.5 0 0 0 334.45,68.68ZM388.14,115.47L406.55,100.86A219.0,219.0 0 0 1 409.28,104.38L390.58,118.61A195.5,195.5 0 0 0 388.14,115.47ZM411.29,152.50L432.49,142.34A219.0,219.0 0 0 1 434.37,146.38L412.98,156.10A195.5,195.5 0 0 0 411.29,152.50Z" fill="#f8f7b6"/>
<g font-family="Liberation Sans, Arial, sans-serif" font-size="3.7" fill="#333" stroke="#333" stroke-width="0.06" dominant-baseline="central">
<text x="436.38" y="229.97" transform="rotate(-2.00 436.38 229.97)">PtrCDPK24</text>
<text x="431.68" y="234.14" transform="rotate(-0.83 431.68 234.14)">PtCDPK2</text>
<text x="431.70" y="238.14" transform="rotate(0.33 431.70 238.14)">PaCDPK4</text>
<text x="431.63" y="242.14" transform="rotate(1.50 431.63 242.14)">PtCDPK19</text>
<text x="431.49" y="246.14" transform="rotate(2.66 431.49 246.14)">PtCDPK2</text>
<text x="431.26" y="250.14" transform="rotate(3.83 431.26 250.14)">PaCDPK17</text>
<text x="430.95" y="254.13" transform="rotate(5.00 430.95 254.13)">PaCDPK25</text>
<text x="435.34" y="258.63" transform="rotate(6.16 435.34 258.63)">PtCDPK8</text>
<text x="430.09" y="262.09" transform="rotate(7.33 430.09 262.09)">PtCDPK14</text>
<text x="429.54" y="266.05" transform="rotate(8.49 429.54 266.05)">PyCDPK27</text>
<text x="428.91" y="270.01" transform="rotate(9.66 428.91 270.01)">PxCDPK23</text>
<text x="428.20" y="273.95" transform="rotate(10.83 428.20 273.95)">PyCDPK20</text>
<text x="427.41" y="277.87" transform="rotate(11.99 427.41 277.87)">MdCDPK17</text>
<text x="426.54" y="281.78" transform="rotate(13.16 426.54 281.78)">PtCDPK9</text>
<text x="425.59" y="285.66" transform="rotate(14.32 425.59 285.66)">PtCDPK11</text>
<text x="424.56" y="289.53" transform="rotate(15.49 424.56 289.53)">PyCDPK24</text>
<text x="423.45" y="293.38" transform="rotate(16.66 423.45 293.38)">BoCDPK21</text>
<text x="422.26" y="297.20" transform="rotate(17.82 422.26 297.20)">AtCPK21</text>
<text x="421.00" y="301.00" transform="rotate(18.99 421.00 301.00)">PxCDPK21</text>
<text x="419.66" y="304.77" transform="rotate(20.15 419.66 304.77)">PtCDPK16</text>
<text x="418.24" y="308.52" transform="rotate(21.32 418.24 308.52)">PbCDPK9</text>
<text x="416.75" y="312.23" transform="rotate(22.49 416.75 312.23)">PbCDPK19b</text>
<text x="415.18" y="315.91" transform="rotate(23.65 415.18 315.91)">PbCDPK5</text>
<text x="413.53" y="319.56" transform="rotate(24.82 413.53 319.56)">PbCDPK25</text>
<text x="411.82" y="323.18" transform="rotate(25.98 411.82 323.18)">BoCDPK22</text>
<text x="410.03" y="326.76" transform="rotate(27.15 410.03 326.76)">MdCDPK23</text>
<text x="408.16" y="330.30" transform="rotate(28.32 408.16 330.30)">MdCDPK6</text>
<text x="406.23" y="333.81" transform="rotate(29.48 406.23 333.81)">AtCPK16</text>
<text x="408.35" y="339.72" transform="rotate(30.65 408.35 339.72)">PtrCDPK22</text>
<text x="406.23" y="343.22" transform="rotate(31.81 406.23 343.22)">PbCDPK17</text>
<text x="400.00" y="344.07" transform="rotate(32.98 400.00 344.07)">PbCDPK13</text>
<text x="397.79" y="347.41" transform="rotate(34.15 397.79 347.41)">PaCDPK11</text>
<text x="395.51" y="350.70" transform="rotate(35.31 395.51 350.70)">PxCDPK15</text>
<text x="393.16" y="353.94" transform="rotate(36.48 393.16 353.94)">PbCDPK20</text>
<text x="390.75" y="357.14" transform="rotate(37.64 390.75 357.14)">PyCDPK4</text>
<text x="388.27" y="360.28" transform="rotate(38.81 388.27 360.28)">PcCDPK5</text>
<text x="385.73" y="363.37" transform="rotate(39.98 385.73 363.37)">MdCDPK25</text>
<text x="383.13" y="366.41" transform="rotate(41.14 383.13 366.41)">MdCDPK30</text>
<text x="380.47" y="369.40" transform="rotate(42.31 380.47 369.40)">PcCDPK24b</text>
<text x="377.74" y="372.33" transform="rotate(43.47 377.74 372.33)">PxCDPK21b</text>
<text x="378.37" y="378.58" transform="rotate(44.64 378.37 378.58)">PtrCDPK2</text>
<text x="375.46" y="381.47" transform="rotate(45.81 375.46 381.47)">PtCDPK27</text>
<text x="369.22" y="380.79" transform="rotate(46.97 369.22 380.79)">PaCDPK23</text>
<text x="366.27" y="383.49" transform="rotate(48.14 366.27 383.49)">PtCDPK9</text>
<text x="363.26" y="386.13" transform="rotate(49.30 363.26 386.13)">PbCDPK27</text>
<text x="360.20" y="388.71" transform="rotate(50.47 360.20 388.71)">PaCDPK22</text>
<text x="357.08" y="391.23" transform="rotate(51.64 357.08 391.23)">AtCPK11</text>
<text x="353.92" y="393.68" transform="rotate(52.80 353.92 393.68)">PcCDPK23</text>
<text x="350.71" y="396.07" transform="rotate(53.97 350.71 396.07)">PxCDPK8</text>
<text x="347.45" y="398.39" transform="rotate(55.13 347.45 398.39)">MdCDPK9</text>
<text x="344.14" y="400.65" transform="rotate(56.30 344.14 400.65)">PtCDPK24</text>
<text x="340.79" y="402.83" transform="rotate(57.47 340.79 402.83)">BoCDPK27a</text>
<text x="337.39" y="404.95" transform="rotate(58.63 337.39 404.95)">PcCDPK22</text>
<text x="333.95" y="407.00" transform="rotate(59.80 333.95 407.00)">PtCDPK25</text>
<text x="330.47" y="408.98" transform="rotate(60.96 330.47 408.98)">AtCPK28</text>
<text x="326.95" y="410.88" transform="rotate(62.13 326.95 410.88)">PbCDPK20</text>
<text x="323.39" y="412.72" transform="rotate(63.30 323.39 412.72)">PtCDPK27</text>
<text x="319.80" y="414.48" transform="rotate(64.46 319.80 414.48)">PtCDPK28</text>
<text x="316.17" y="416.17" transform="rotate(65.63 316.17 416.17)">PbCDPK30</text>
<text x="312.51" y="417.79" transform="rotate(66.79 312.51 417.79)">PxCDPK10</text>
<text x="308.81" y="419.33" transform="rotate(67.96 308.81 419.33)">AtCPK14</text>
<text x="305.09" y="420.79" transform="rotate(69.13 305.09 420.79)">AtCPK7</text>
<text x="301.33" y="422.18" transform="rotate(70.29 301.33 422.18)">BoCDPK15</text>
<text x="297.55" y="423.49" transform="rotate(71.46 297.55 423.49)">PtCDPK7</text>
<text x="293.74" y="424.72" transform="rotate(72.62 293.74 424.72)">PtCDPK9a</text>
<text x="289.91" y="425.88" transform="rotate(73.79 289.91 425.88)">PaCDPK22</text>
<text x="286.06" y="426.96" transform="rotate(74.96 286.06 426.96)">MdCDPK14</text>
<text x="282.18" y="427.96" transform="rotate(76.12 282.18 427.96)">PxCDPK3</text>
<text x="278.28" y="428.88" transform="rotate(77.29 278.28 428.88)">PyCDPK9</text>
<text x="274.37" y="429.72" transform="rotate(78.45 274.37 429.72)">PcCDPK12b</text>
<text x="270.44" y="430.48" transform="rotate(79.62 270.44 430.48)">PxCDPK30</text>
<text x="266.50" y="431.16" transform="rotate(80.79 266.50 431.16)">PbCDPK23</text>
<text x="262.54" y="431.76" transform="rotate(81.95 262.54 431.76)">PyCDPK3</text>
<text x="258.57" y="432.28" transform="rotate(83.12 258.57 432.28)">PyCDPK24b</text>
<text x="255.07" y="437.50" transform="rotate(84.28 255.07 437.50)">PtrCDPK15</text>
<text x="250.98" y="437.86" transform="rotate(85.45 250.98 437.86)">PbCDPK1b</text>
<text x="246.61" y="433.36" transform="rotate(86.62 246.61 433.36)">PtCDPK2</text>
<text x="242.61" y="433.55" transform="rotate(87.78 242.61 433.55)">PtCDPK24</text>
<text x="238.61" y="433.67" transform="rotate(88.95 238.61 433.67)">AtCPK29</text>
<text x="234.61" y="433.70" text-anchor="end" transform="rotate(270.11 234.61 433.70)">AtCPK8</text>
<text x="230.61" y="433.65" text-anchor="end" transform="rotate(271.28 230.61 433.65)">AtCPK22</text>
<text x="226.61" y="433.52" text-anchor="end" transform="rotate(272.45 226.61 433.52)">PxCDPK9</text>
<text x="222.61" y="433.31" text-anchor="end" transform="rotate(273.61 222.61 433.31)">PbCDPK11</text>
<text x="218.62" y="433.02" text-anchor="end" transform="rotate(274.78 218.62 433.02)">PbCDPK6</text>
<text x="214.63" y="432.64" text-anchor="end" transform="rotate(275.94 214.63 432.64)">PtCDPK16</text>
<text x="210.65" y="432.19" text-anchor="end" transform="rotate(277.11 210.65 432.19)">PbCDPK30</text>
<text x="206.69" y="431.65" text-anchor="end" transform="rotate(278.28 206.69 431.65)">PtCDPK13</text>
<text x="202.73" y="431.04" text-anchor="end" transform="rotate(279.44 202.73 431.04)">PtCDPK14</text>
<text x="198.79" y="430.34" text-anchor="end" transform="rotate(280.61 198.79 430.34)">PtCDPK12</text>
<text x="194.86" y="429.56" text-anchor="end" transform="rotate(281.77 194.86 429.56)">PbCDPK9</text>
<text x="190.95" y="428.70" text-anchor="end" transform="rotate(282.94 190.95 428.70)">BoCDPK23</text>
<text x="187.06" y="427.77" text-anchor="end" transform="rotate(284.11 187.06 427.77)">PtCDPK23</text>
<text x="183.19" y="426.75" text-anchor="end" transform="rotate(285.27 183.19 426.75)">PaCDPK11</text>
<text x="179.34" y="425.66" text-anchor="end" transform="rotate(286.44 179.34 425.66)">PtCDPK9</text>
<text x="175.51" y="424.49" text-anchor="end" transform="rotate(287.60 175.51 424.49)">MdCDPK4</text>
<text x="171.71" y="423.24" text-anchor="end" transform="rotate(288.77 171.71 423.24)">PtCDPK13</text>
<text x="167.93" y="421.91" text-anchor="end" transform="rotate(289.94 167.93 421.91)">AtCPK3</text>
<text x="164.18" y="420.51" text-anchor="end" transform="rotate(291.10 164.18 420.51)">PcCDPK7</text>
<text x="160.46" y="419.03" text-anchor="end" transform="rotate(292.27 160.46 419.03)">PcCDPK30</text>
<text x="156.77" y="417.48" text-anchor="end" transform="rotate(293.43 156.77 417.48)">PbCDPK7a</text>
<text x="153.12" y="415.85" text-anchor="end" transform="rotate(294.60 153.12 415.85)">PtCDPK10</text>
<text x="149.50" y="414.14" text-anchor="end" transform="rotate(295.77 149.50 414.14)">PyCDPK14</text>
<text x="145.91" y="412.37" text-anchor="end" transform="rotate(296.93 145.91 412.37)">PyCDPK10</text>
<text x="142.36" y="410.52" text-anchor="end" transform="rotate(298.10 142.36 410.52)">PyCDPK17</text>
<text x="138.85" y="408.60" text-anchor="end" transform="rotate(299.26 138.85 408.60)">PtCDPK13a</text>
<text x="132.94" y="410.74" text-anchor="end" transform="rotate(300.43 132.94 410.74)">PtrCDPK11</text>
<text x="129.43" y="408.63" text-anchor="end" transform="rotate(301.60 129.43 408.63)">PtCDPK8</text>
<text x="128.56" y="402.41" text-anchor="end" transform="rotate(302.76 128.56 402.41)">PaCDPK28</text>
<text x="122.53" y="404.19" text-anchor="end" transform="rotate(303.93 122.53 404.19)">PtrCDPK17</text>
<text x="119.15" y="401.87" text-anchor="end" transform="rotate(305.09 119.15 401.87)">PtCDPK5</text>
<text x="118.66" y="395.61" text-anchor="end" transform="rotate(306.26 118.66 395.61)">PtCDPK30</text>
<text x="115.46" y="393.21" text-anchor="end" transform="rotate(307.43 115.46 393.21)">PtCDPK25</text>
<text x="112.30" y="390.74" text-anchor="end" transform="rotate(308.59 112.30 390.74)">PxCDPK21</text>
<text x="109.20" y="388.21" text-anchor="end" transform="rotate(309.76 109.20 388.21)">PcCDPK24</text>
<text x="106.15" y="385.62" text-anchor="end" transform="rotate(310.92 106.15 385.62)">PyCDPK7</text>
<text x="103.15" y="382.97" text-anchor="end" transform="rotate(312.09 103.15 382.97)">MdCDPK11</text>
<text x="100.21" y="380.26" text-anchor="end" transform="rotate(313.26 100.21 380.26)">MdCDPK20</text>
<text x="97.32" y="377.48" text-anchor="end" transform="rotate(314.42 97.32 377.48)">BoCDPK15</text>
<text x="94.49" y="374.65" text-anchor="end" transform="rotate(315.59 94.49 374.65)">PtCDPK26</text>
<text x="91.72" y="371.77" text-anchor="end" transform="rotate(316.75 91.72 371.77)">PbCDPK2</text>
<text x="89.01" y="368.82" text-anchor="end" transform="rotate(317.92 89.01 368.82)">PtCDPK3b</text>
<text x="86.36" y="365.82" text-anchor="end" transform="rotate(319.09 86.36 365.82)">AtCPK16a</text>
<text x="83.76" y="362.77" text-anchor="end" transform="rotate(320.25 83.76 362.77)">AtCPK16</text>
<text x="81.24" y="359.67" text-anchor="end" transform="rotate(321.42 81.24 359.67)">AtCPK17</text>
<text x="78.77" y="356.51" text-anchor="end" transform="rotate(322.58 78.77 356.51)">PtCDPK22</text>
<text x="76.37" y="353.31" text-anchor="end" transform="rotate(323.75 76.37 353.31)">PtCDPK30</text>
<text x="74.04" y="350.06" text-anchor="end" transform="rotate(324.92 74.04 350.06)">PtCDPK18b</text>
<text x="71.77" y="346.76" text-anchor="end" transform="rotate(326.08 71.77 346.76)">BoCDPK2</text>
<text x="69.57" y="343.42" text-anchor="end" transform="rotate(327.25 69.57 343.42)">PtCDPK10</text>
<text x="67.44" y="340.03" text-anchor="end" transform="rotate(328.41 67.44 340.03)">PcCDPK23</text>
<text x="65.38" y="336.60" text-anchor="end" transform="rotate(329.58 65.38 336.60)">PcCDPK25b</text>
<text x="63.39" y="333.12" text-anchor="end" transform="rotate(330.75 63.39 333.12)">PyCDPK18</text>
<text x="61.47" y="329.61" text-anchor="end" transform="rotate(331.91 61.47 329.61)">PyCDPK15b</text>
<text x="59.62" y="326.06" text-anchor="end" transform="rotate(333.08 59.62 326.06)">PaCDPK9</text>
<text x="53.52" y="324.56" text-anchor="end" transform="rotate(334.24 53.52 324.56)">PtrCDPK27</text>
<text x="51.77" y="320.85" text-anchor="end" transform="rotate(335.41 51.77 320.85)">PbCDPK17</text>
<text x="54.51" y="315.19" text-anchor="end" transform="rotate(336.58 54.51 315.19)">PyCDPK8</text>
<text x="52.96" y="311.51" text-anchor="end" transform="rotate(337.74 52.96 311.51)">PyCDPK21</text>
<text x="51.48" y="307.79" text-anchor="end" transform="rotate(338.91 51.48 307.79)">PcCDPK6</text>
<text x="50.08" y="304.04" text-anchor="end" transform="rotate(340.07 50.08 304.04)">PyCDPK28</text>
<text x="48.75" y="300.26" text-anchor="end" transform="rotate(341.24 48.75 300.26)">PtCDPK19</text>
<text x="47.50" y="296.46" text-anchor="end" transform="rotate(342.41 47.50 296.46)">PcCDPK21</text>
<text x="46.33" y="292.63" text-anchor="end" transform="rotate(343.57 46.33 292.63)">PtCDPK22</text>
<text x="45.24" y="288.78" text-anchor="end" transform="rotate(344.74 45.24 288.78)">PxCDPK11</text>
<text x="44.22" y="284.91" text-anchor="end" transform="rotate(345.90 44.22 284.91)">PbCDPK25</text>
<text x="43.29" y="281.01" text-anchor="end" transform="rotate(347.07 43.29 281.01)">PbCDPK29</text>
<text x="42.43" y="277.10" text-anchor="end" transform="rotate(348.24 42.43 277.10)">PxCDPK21</text>
<text x="41.66" y="273.18" text-anchor="end" transform="rotate(349.40 41.66 273.18)">PxCDPK18</text>
<text x="36.22" y="270.02" text-anchor="end" transform="rotate(350.57 36.22 270.02)">PtrCDPK25</text>
<text x="35.59" y="265.97" text-anchor="end" transform="rotate(351.73 35.59 265.97)">PtCDPK2</text>
<text x="39.81" y="261.31" text-anchor="end" transform="rotate(352.90 39.81 261.31)">PtCDPK23</text>
<text x="39.35" y="257.34" text-anchor="end" transform="rotate(354.07 39.35 257.34)">PtCDPK8</text>
<text x="38.98" y="253.35" text-anchor="end" transform="rotate(355.23 38.98 253.35)">PtCDPK21</text>
<text x="38.69" y="249.36" text-anchor="end" transform="rotate(356.40 38.69 249.36)">PyCDPK1</text>
<text x="38.48" y="245.36" text-anchor="end" transform="rotate(357.56 38.48 245.36)">PtrCDPK4b</text>
<text x="38.35" y="241.36" text-anchor="end" transform="rotate(358.73 38.35 241.36)">PxCDPK23</text>
<text x="38.30" y="237.36" text-anchor="end" transform="rotate(359.90 38.30 237.36)">PyCDPK21</text>
<text x="38.33" y="233.35" text-anchor="end" transform="rotate(361.06 38.33 233.35)">PtCDPK4b</text>
<text x="38.45" y="229.35" text-anchor="end" transform="rotate(362.23 38.45 229.35)">PxCDPK20b</text>
<text x="38.65" y="225.35" text-anchor="end" transform="rotate(363.39 38.65 225.35)">BoCDPK8</text>
<text x="38.92" y="221.36" text-anchor="end" transform="rotate(364.56 38.92 221.36)">BoCDPK28</text>
<text x="39.28" y="217.37" text-anchor="end" transform="rotate(365.73 39.28 217.37)">PtCDPK17</text>
<text x="39.72" y="213.40" text-anchor="end" transform="rotate(366.89 39.72 213.40)">AtCPK11</text>
<text x="40.24" y="209.43" text-anchor="end" transform="rotate(368.06 40.24 209.43)">PxCDPK27</text>
<text x="40.84" y="205.47" text-anchor="end" transform="rotate(369.22 40.84 205.47)">AtCPK10a</text>
<text x="41.53" y="201.53" text-anchor="end" transform="rotate(370.39 41.53 201.53)">PxCDPK6</text>
<text x="42.29" y="197.60" text-anchor="end" transform="rotate(371.56 42.29 197.60)">PxCDPK14</text>
<text x="43.13" y="193.68" text-anchor="end" transform="rotate(372.72 43.13 193.68)">AtCPK16b</text>
<text x="44.05" y="189.79" text-anchor="end" transform="rotate(373.89 44.05 189.79)">AtCPK12</text>
<text x="45.05" y="185.91" text-anchor="end" transform="rotate(375.05 45.05 185.91)">PxCDPK23</text>
<text x="46.13" y="182.06" text-anchor="end" transform="rotate(376.22 46.13 182.06)">PbCDPK13</text>
<text x="47.29" y="178.22" text-anchor="end" transform="rotate(377.39 47.29 178.22)">PtCDPK4</text>
<text x="48.52" y="174.42" text-anchor="end" transform="rotate(378.55 48.52 174.42)">PyCDPK29</text>
<text x="49.83" y="170.64" text-anchor="end" transform="rotate(379.72 49.83 170.64)">PtCDPK26</text>
<text x="51.22" y="166.88" text-anchor="end" transform="rotate(380.88 51.22 166.88)">PtCDPK22</text>
<text x="52.69" y="163.16" text-anchor="end" transform="rotate(382.05 52.69 163.16)">PtCDPK15</text>
<text x="54.23" y="159.46" text-anchor="end" transform="rotate(383.22 54.23 159.46)">MdCDPK27</text>
<text x="55.84" y="155.80" text-anchor="end" transform="rotate(384.38 55.84 155.80)">MdCDPK15</text>
<text x="57.53" y="152.17" text-anchor="end" transform="rotate(385.55 57.53 152.17)">PtCDPK6b</text>
<text x="59.30" y="148.58" text-anchor="end" transform="rotate(386.71 59.30 148.58)">PyCDPK24</text>
<text x="61.13" y="145.02" text-anchor="end" transform="rotate(387.88 61.13 145.02)">PyCDPK13</text>
<text x="58.84" y="139.17" text-anchor="end" transform="rotate(389.05 58.84 139.17)">PtrCDPK28a</text>
<text x="60.87" y="135.61" text-anchor="end" transform="rotate(390.21 60.87 135.61)">PbCDPK8</text>
<text x="67.07" y="134.58" text-anchor="end" transform="rotate(391.38 67.07 134.58)">AtCPK1</text>
<text x="69.19" y="131.19" text-anchor="end" transform="rotate(392.54 69.19 131.19)">PtCDPK7</text>
<text x="71.37" y="127.83" text-anchor="end" transform="rotate(393.71 71.37 127.83)">PaCDPK29</text>
<text x="69.69" y="121.78" text-anchor="end" transform="rotate(394.88 69.69 121.78)">PtrCDPK24a</text>
<text x="72.07" y="118.44" text-anchor="end" transform="rotate(396.04 72.07 118.44)">PbCDPK5</text>
<text x="78.34" y="118.05" text-anchor="end" transform="rotate(397.21 78.34 118.05)">PaCDPK12b</text>
<text x="80.79" y="114.89" text-anchor="end" transform="rotate(398.37 80.79 114.89)">PtCDPK20</text>
<text x="83.31" y="111.78" text-anchor="end" transform="rotate(399.54 83.31 111.78)">PyCDPK10b</text>
<text x="85.89" y="108.72" text-anchor="end" transform="rotate(400.71 85.89 108.72)">PbCDPK27</text>
<text x="88.53" y="105.71" text-anchor="end" transform="rotate(401.87 88.53 105.71)">AtCPK23</text>
<text x="91.23" y="102.76" text-anchor="end" transform="rotate(403.04 91.23 102.76)">PyCDPK1</text>
<text x="93.99" y="99.86" text-anchor="end" transform="rotate(404.20 93.99 99.86)">PyCDPK18</text>
<text x="96.81" y="97.02" text-anchor="end" transform="rotate(405.37 96.81 97.02)">PtCDPK19</text>
<text x="99.69" y="94.23" text-anchor="end" transform="rotate(406.54 99.69 94.23)">PtCDPK19</text>
<text x="102.62" y="91.51" text-anchor="end" transform="rotate(407.70 102.62 91.51)">PtCDPK20</text>
<text x="105.61" y="88.85" text-anchor="end" transform="rotate(408.87 105.61 88.85)">PtCDPK20</text>
<text x="108.65" y="86.24" text-anchor="end" transform="rotate(410.03 108.65 86.24)">BoCDPK25a</text>
<text x="111.75" y="83.70" text-anchor="end" transform="rotate(411.20 111.75 83.70)">PcCDPK22a</text>
<text x="114.89" y="81.23" text-anchor="end" transform="rotate(412.37 114.89 81.23)">PxCDPK22</text>
<text x="118.09" y="78.82" text-anchor="end" transform="rotate(413.53 118.09 78.82)">PtCDPK28</text>
<text x="121.33" y="76.47" text-anchor="end" transform="rotate(414.70 121.33 76.47)">PbCDPK2</text>
<text x="121.93" y="70.22" text-anchor="end" transform="rotate(415.86 121.93 70.22)">PtCDPK28</text>
<text x="127.96" y="71.98" text-anchor="end" transform="rotate(417.03 127.96 71.98)">PaCDPK3</text>
<text x="131.34" y="69.83" text-anchor="end" transform="rotate(418.20 131.34 69.83)">PtCDPK1</text>
<text x="134.76" y="67.76" text-anchor="end" transform="rotate(419.36 134.76 67.76)">PbCDPK12b</text>
<text x="138.22" y="65.75" text-anchor="end" transform="rotate(420.53 138.22 65.75)">AtCPK12</text>
<text x="141.73" y="63.82" text-anchor="end" transform="rotate(421.69 141.73 63.82)">PyCDPK3</text>
<text x="145.27" y="61.96" text-anchor="end" transform="rotate(422.86 145.27 61.96)">MdCDPK14</text>
<text x="148.85" y="60.17" text-anchor="end" transform="rotate(424.03 148.85 60.17)">PtCDPK25</text>
<text x="152.47" y="58.45" text-anchor="end" transform="rotate(425.19 152.47 58.45)">MdCDPK11</text>
<text x="156.12" y="56.81" text-anchor="end" transform="rotate(426.36 156.12 56.81)">PxCDPK18</text>
<text x="159.80" y="55.24" text-anchor="end" transform="rotate(427.52 159.80 55.24)">PaCDPK9</text>
<text x="163.52" y="53.75" text-anchor="end" transform="rotate(428.69 163.52 53.75)">BoCDPK21</text>
<text x="167.26" y="52.33" text-anchor="end" transform="rotate(429.86 167.26 52.33)">PtCDPK19</text>
<text x="171.03" y="50.99" text-anchor="end" transform="rotate(431.02 171.03 50.99)">PxCDPK9</text>
<text x="174.83" y="49.73" text-anchor="end" transform="rotate(432.19 174.83 49.73)">AtCPK13</text>
<text x="178.65" y="48.54" text-anchor="end" transform="rotate(433.35 178.65 48.54)">PxCDPK9</text>
<text x="182.50" y="47.44" text-anchor="end" transform="rotate(434.52 182.50 47.44)">PbCDPK7</text>
<text x="186.37" y="46.41" text-anchor="end" transform="rotate(435.69 186.37 46.41)">PbCDPK17</text>
<text x="190.26" y="45.46" text-anchor="end" transform="rotate(436.85 190.26 45.46)">PxCDPK2</text>
<text x="194.16" y="44.59" text-anchor="end" transform="rotate(438.02 194.16 44.59)">PbCDPK17</text>
<text x="198.09" y="43.79" text-anchor="end" transform="rotate(439.18 198.09 43.79)">PbCDPK27</text>
<text x="202.03" y="43.08" text-anchor="end" transform="rotate(440.35 202.03 43.08)">BoCDPK30b</text>
<text x="205.98" y="42.45" text-anchor="end" transform="rotate(441.52 205.98 42.45)">PcCDPK28</text>
<text x="209.95" y="41.90" text-anchor="end" transform="rotate(442.68 209.95 41.90)">PyCDPK30</text>
<text x="213.92" y="41.43" text-anchor="end" transform="rotate(443.85 213.92 41.43)">PyCDPK23</text>
<text x="217.90" y="41.04" text-anchor="end" transform="rotate(445.01 217.90 41.04)">PtCDPK30</text>
<text x="221.58" y="35.95" text-anchor="end" transform="rotate(446.18 221.58 35.95)">PbCDPK6b</text>
<text x="225.67" y="35.72" text-anchor="end" transform="rotate(447.35 225.67 35.72)">PtrCDPK11</text>
<text x="229.89" y="40.37" text-anchor="end" transform="rotate(448.51 229.89 40.37)">PtCDPK7</text>
<text x="233.89" y="40.30" text-anchor="end" transform="rotate(449.68 233.89 40.30)">PtCDPK13b</text>
<text x="237.90" y="40.32" transform="rotate(270.84 237.90 40.32)">PtCDPK4a</text>
<text x="241.90" y="40.42" transform="rotate(272.01 241.90 40.42)">MdCDPK14b</text>
<text x="245.90" y="40.60" transform="rotate(273.18 245.90 40.60)">PtCDPK15</text>
<text x="249.89" y="40.86" transform="rotate(274.34 249.89 40.86)">PtCDPK7</text>
<text x="254.34" y="36.43" transform="rotate(275.51 254.34 36.43)">PtrCDPK21a</text>
<text x="257.86" y="41.63" transform="rotate(276.67 257.86 41.63)">PaCDPK25b</text>
<text x="261.83" y="42.14" transform="rotate(277.84 261.83 42.14)">PtCDPK7</text>
<text x="266.54" y="37.98" transform="rotate(279.01 266.54 37.98)">PbCDPK2</text>
<text x="269.74" y="43.39" transform="rotate(280.17 269.74 43.39)">PbCDPK10</text>
<text x="273.67" y="44.14" transform="rotate(281.34 273.67 44.14)">PyCDPK23</text>
<text x="277.59" y="44.97" transform="rotate(282.50 277.59 44.97)">AtCPK15</text>
<text x="281.49" y="45.87" transform="rotate(283.67 281.49 45.87)">PyCDPK7</text>
<text x="285.37" y="46.86" transform="rotate(284.84 285.37 46.86)">PxCDPK2</text>
<text x="289.22" y="47.92" transform="rotate(286.00 289.22 47.92)">PtCDPK9</text>
<text x="293.06" y="49.06" transform="rotate(287.17 293.06 49.06)">PxCDPK9</text>
<text x="296.87" y="50.28" transform="rotate(288.33 296.87 50.28)">PyCDPK12</text>
<text x="300.66" y="51.58" transform="rotate(289.50 300.66 51.58)">PcCDPK5</text>
<text x="304.42" y="52.96" transform="rotate(290.67 304.42 52.96)">PxCDPK22</text>
<text x="308.15" y="54.41" transform="rotate(291.83 308.15 54.41)">AtCPK1</text>
<text x="311.85" y="55.93" transform="rotate(293.00 311.85 55.93)">PtCDPK7</text>
<text x="315.52" y="57.54" transform="rotate(294.16 315.52 57.54)">PtCDPK19</text>
<text x="319.15" y="59.21" transform="rotate(295.33 319.15 59.21)">PbCDPK11b</text>
<text x="322.75" y="60.96" transform="rotate(296.50 322.75 60.96)">PtCDPK10</text>
<text x="326.32" y="62.78" transform="rotate(297.66 326.32 62.78)">PbCDPK4</text>
<text x="329.85" y="64.68" transform="rotate(298.83 329.85 64.68)">AtCPK27</text>
<text x="333.33" y="66.64" transform="rotate(299.99 333.33 66.64)">PxCDPK30</text>
<text x="336.78" y="68.68" transform="rotate(301.16 336.78 68.68)">PtCDPK21</text>
<text x="340.18" y="70.78" transform="rotate(302.33 340.18 70.78)">PaCDPK19</text>
<text x="343.54" y="72.96" transform="rotate(303.49 343.54 72.96)">BoCDPK10</text>
<text x="346.86" y="75.20" transform="rotate(304.66 346.86 75.20)">PtCDPK16</text>
<text x="350.13" y="77.51" transform="rotate(305.82 350.13 77.51)">PtCDPK13b</text>
<text x="353.35" y="79.89" transform="rotate(306.99 353.35 79.89)">PtCDPK26a</text>
<text x="356.52" y="82.33" transform="rotate(308.16 356.52 82.33)">PxCDPK28</text>
<text x="359.64" y="84.83" transform="rotate(309.32 359.64 84.83)">AtCPK22b</text>
<text x="362.72" y="87.40" transform="rotate(310.49 362.72 87.40)">PyCDPK26</text>
<text x="368.92" y="86.44" transform="rotate(311.65 368.92 86.44)">PtrCDPK10</text>
<text x="371.96" y="89.20" transform="rotate(312.82 371.96 89.20)">PbCDPK8</text>
<text x="371.60" y="95.47" transform="rotate(313.99 371.60 95.47)">PtCDPK27b</text>
<text x="374.46" y="98.28" transform="rotate(315.15 374.46 98.28)">PyCDPK2</text>
<text x="377.25" y="101.15" transform="rotate(316.32 377.25 101.15)">PaCDPK5</text>
<text x="379.99" y="104.07" transform="rotate(317.48 379.99 104.07)">PbCDPK7</text>
<text x="382.66" y="107.05" transform="rotate(318.65 382.66 107.05)">PtCDPK21</text>
<text x="388.94" y="106.98" transform="rotate(319.82 388.94 106.98)">PtCDPK10</text>
<text x="387.83" y="113.16" transform="rotate(320.98 387.83 113.16)">PtCDPK3a</text>
<text x="390.31" y="116.30" transform="rotate(322.15 390.31 116.30)">PcCDPK28</text>
<text x="392.74" y="119.49" transform="rotate(323.31 392.74 119.49)">PtCDPK23</text>
<text x="395.10" y="122.72" transform="rotate(324.48 395.10 122.72)">PtCDPK29b</text>
<text x="397.39" y="126.00" transform="rotate(325.65 397.39 126.00)">PyCDPK28</text>
<text x="399.61" y="129.33" transform="rotate(326.81 399.61 129.33)">PxCDPK19</text>
<text x="401.77" y="132.70" transform="rotate(327.98 401.77 132.70)">AtCPK17</text>
<text x="403.86" y="136.12" transform="rotate(329.14 403.86 136.12)">PxCDPK15</text>
<text x="405.88" y="139.57" transform="rotate(330.31 405.88 139.57)">AtCPK2</text>
<text x="407.82" y="143.07" transform="rotate(331.48 407.82 143.07)">PtCDPK3</text>
<text x="409.70" y="146.61" transform="rotate(332.64 409.70 146.61)">PbCDPK24</text>
<text x="411.50" y="150.18" transform="rotate(333.81 411.50 150.18)">PtCDPK25</text>
<text x="413.23" y="153.79" transform="rotate(334.97 413.23 153.79)">PtCDPK12</text>
<text x="414.89" y="157.43" transform="rotate(336.14 414.89 157.43)">PtCDPK3</text>
<text x="416.47" y="161.11" transform="rotate(337.31 416.47 161.11)">BoCDPK27</text>
<text x="417.98" y="164.82" transform="rotate(338.47 417.98 164.82)">MdCDPK24</text>
<text x="419.41" y="168.56" transform="rotate(339.64 419.41 168.56)">MdCDPK30</text>
<text x="420.76" y="172.32" transform="rotate(340.80 420.76 172.32)">PtCDPK24</text>
<text x="422.04" y="176.12" transform="rotate(341.97 422.04 176.12)">AtCPK6</text>
<text x="423.24" y="179.94" transform="rotate(343.14 423.24 179.94)">PtCDPK22b</text>
<text x="424.36" y="183.78" transform="rotate(344.30 424.36 183.78)">PtCDPK25</text>
<text x="425.41" y="187.64" transform="rotate(345.47 425.41 187.64)">PyCDPK13</text>
<text x="426.37" y="191.53" transform="rotate(346.63 426.37 191.53)">PyCDPK23</text>
<text x="427.26" y="195.43" transform="rotate(347.80 427.26 195.43)">PaCDPK4</text>
<text x="428.06" y="199.35" transform="rotate(348.97 428.06 199.35)">PtCDPK13b</text>
<text x="428.79" y="203.29" transform="rotate(350.13 428.79 203.29)">PtCDPK2</text>
<text x="434.18" y="206.51" transform="rotate(351.30 434.18 206.51)">PtrCDPK18</text>
<text x="434.76" y="210.57" transform="rotate(352.46 434.76 210.57)">PtCDPK19</text>
</g>
<g fill="#2b4c8c"><rect x="431.58" y="228.27" width="3.6" height="3.6" transform="rotate(-2.00 433.38 230.07)"/><path d="M430.45,259.81L434.25,259.81L432.35,256.51Z" transform="rotate(6.16 432.35 258.31)"/><rect x="403.97" y="336.39" width="3.6" height="3.6" transform="rotate(30.65 405.77 338.19)"/><path d="M401.78,343.14L405.58,343.14L403.68,339.84Z" transform="rotate(31.81 403.68 341.64)"/><rect x="374.44" y="374.68" width="3.6" height="3.6" transform="rotate(44.64 376.24 376.48)"/><path d="M371.47,380.82L375.27,380.82L373.37,377.52Z" transform="rotate(45.81 373.37 379.32)"/><rect x="252.97" y="432.71" width="3.6" height="3.6" transform="rotate(84.28 254.77 434.51)"/><path d="M248.85,436.37L252.65,436.37L250.75,433.07Z" transform="rotate(85.45 250.75 434.87)"/><rect x="132.66" y="406.36" width="3.6" height="3.6" transform="rotate(120.43 134.46 408.16)"/><path d="M129.10,407.58L132.90,407.58L131.00,404.28Z" transform="rotate(121.60 131.00 406.08)"/><rect x="122.41" y="399.90" width="3.6" height="3.6" transform="rotate(123.93 124.21 401.70)"/><path d="M118.98,400.91L122.78,400.91L120.88,397.61Z" transform="rotate(125.09 120.88 399.41)"/><rect x="54.42" y="321.46" width="3.6" height="3.6" transform="rotate(154.24 56.22 323.26)"/><path d="M52.60,321.10L56.40,321.10L54.50,317.80Z" transform="rotate(155.41 54.50 319.60)"/><rect x="37.38" y="267.73" width="3.6" height="3.6" transform="rotate(170.57 39.18 269.53)"/><path d="M36.66,267.04L40.46,267.04L38.56,263.74Z" transform="rotate(171.73 38.56 265.54)"/><rect x="59.67" y="138.83" width="3.6" height="3.6" transform="rotate(209.05 61.47 140.63)"/><path d="M61.56,138.61L65.36,138.61L63.46,135.31Z" transform="rotate(210.21 63.46 137.11)"/><rect x="70.35" y="121.70" width="3.6" height="3.6" transform="rotate(214.88 72.15 123.50)"/><path d="M72.60,121.71L76.40,121.71L74.50,118.41Z" transform="rotate(216.04 74.50 120.21)"/><path d="M121.71,74.20L125.51,74.20L123.61,70.90Z" transform="rotate(235.86 123.61 72.70)"/><path d="M219.88,40.44L223.68,40.44L221.78,37.14Z" transform="rotate(266.18 221.78 38.94)"/><rect x="224.01" y="36.91" width="3.6" height="3.6" transform="rotate(267.35 225.81 38.71)"/><rect x="252.25" y="37.62" width="3.6" height="3.6" transform="rotate(275.51 254.05 39.42)"/><path d="M264.17,42.45L267.97,42.45L266.07,39.15Z" transform="rotate(279.01 266.07 40.95)"/><rect x="365.13" y="86.89" width="3.6" height="3.6" transform="rotate(311.65 366.93 88.69)"/><path d="M368.02,92.90L371.82,92.90L369.92,89.60Z" transform="rotate(312.82 369.92 91.40)"/><path d="M384.75,110.42L388.55,110.42L386.65,107.12Z" transform="rotate(319.82 386.65 108.92)"/><rect x="429.41" y="205.17" width="3.6" height="3.6" transform="rotate(351.30 431.21 206.97)"/><path d="M429.89,212.47L433.69,212.47L431.79,209.17Z" transform="rotate(352.46 431.79 210.97)"/></g>
<path d="M237.94,246.24A9.70,9.70 0 0 1 230.82,245.76M237.94,246.24L240.88,255.49M247.30,252.00A19.40,19.40 0 0 1 240.88,255.49M247.30,252.00L253.45,259.51M257.99,254.84A29.10,29.10 0 0 1 253.45,259.51M257.99,254.84L265.65,260.79M268.98,255.73A38.80,38.80 0 0 1 265.65,260.79M268.98,255.73L277.47,260.42M280.21,254.56A48.50,48.50 0 0 1 277.47,260.42M280.21,254.56L289.25,258.07M291.14,252.33A58.20,58.20 0 0 1 289.25,258.07M291.14,252.33L300.50,254.88M301.45,250.94A67.90,67.90 0 0 1 300.50,254.88M301.45,250.94L310.95,252.93M311.43,250.41A77.60,77.60 0 0 1 310.95,252.93M311.43,250.41L320.99,252.09M321.34,249.90A87.30,87.30 0 0 1 320.99,252.09M321.34,249.90L330.94,251.33M331.21,249.38A97.00,97.00 0 0 1 330.94,251.33M331.21,249.38L340.83,250.61M341.08,248.46A106.70,106.70 0 0 1 340.83,250.61M341.08,248.46L350.73,249.50M350.96,247.16A116.40,116.40 0 0 1 350.73,249.50M350.96,247.16L360.62,248.00M360.82,245.46A126.10,126.10 0 0 1 360.62,248.00M360.82,245.46L370.49,246.11M370.65,243.40A135.80,135.80 0 0 1 370.49,246.11M370.65,243.40L380.34,243.86M380.45,240.99A145.50,145.50 0 0 1 380.34,243.86M380.45,240.99L390.14,241.25M390.19,238.29A155.20,155.20 0 0 1 390.14,241.25M390.19,238.29L399.89,238.37M399.89,235.44A164.90,164.90 0 0 1 399.89,238.37M399.89,235.44L409.59,235.35M409.55,232.68A174.60,174.60 0 0 1 409.59,235.35M409.55,232.68L419.24,232.44M419.19,230.57A184.30,184.30 0 0 1 419.24,232.44M419.19,230.57L428.88,230.23M419.24,232.44A184.30,184.30 0 0 1 419.28,234.32M419.28,234.32L428.98,234.18M409.59,235.35A174.60,174.60 0 0 1 409.60,238.01M409.60,238.01L429.00,238.12M399.89,238.37A164.90,164.90 0 0 1 399.84,241.31M399.84,241.31L428.93,242.07M390.14,241.25A155.20,155.20 0 0 1 390.03,244.21M390.03,244.21L428.79,246.02M380.34,243.86A145.50,145.50 0 0 1 380.18,246.72M380.18,246.72L428.57,249.96M370.49,246.11A135.80,135.80 0 0 1 370.28,248.83M370.28,248.83L428.26,253.89M360.62,248.00A126.10,126.10 0 0 1 360.37,250.54M360.37,250.54L427.88,257.82M350.73,249.50A116.40,116.40 0 0 1 350.45,251.85M350.45,251.85L427.42,261.74M340.83,250.61A106.70,106.70 0 0 1 340.53,252.76M340.53,252.76L426.87,265.65M330.94,251.33A97.00,97.00 0 0 1 330.62,253.28M330.62,253.28L426.25,269.55M320.99,252.09A87.30,87.30 0 0 1 320.57,254.27M320.57,254.27L415.66,273.46M416.02,271.62A184.30,184.30 0 0 1 415.66,273.46M416.02,271.62L425.55,273.44M415.66,273.46A184.30,184.30 0 0 1 415.28,275.29M415.28,275.29L424.77,277.31M310.95,252.93A77.60,77.60 0 0 1 310.38,255.43M310.38,255.43L414.03,280.78M414.46,278.95A184.30,184.30 0 0 1 414.03,280.78M414.46,278.95L423.91,281.16M414.03,280.78A184.30,184.30 0 0 1 413.57,282.60M413.57,282.60L422.97,285.00M300.50,254.88A67.90,67.90 0 0 1 299.32,258.77M299.32,258.77L391.20,289.86M392.49,285.87A164.90,164.90 0 0 1 391.20,289.86M392.49,285.87L401.76,288.74M402.77,285.34A174.60,174.60 0 0 1 401.76,288.74M402.77,285.34L412.10,288.03M412.61,286.22A184.30,184.30 0 0 1 412.10,288.03M412.61,286.22L421.95,288.81M412.10,288.03A184.30,184.30 0 0 1 411.57,289.82M411.57,289.82L420.86,292.61M401.76,288.74A174.60,174.60 0 0 1 400.67,292.13M400.67,292.13L409.87,295.19M410.46,293.41A184.30,184.30 0 0 1 409.87,295.19M410.46,293.41L419.69,296.38M409.87,295.19A184.30,184.30 0 0 1 409.27,296.97M409.27,296.97L418.44,300.12M391.20,289.86A164.90,164.90 0 0 1 389.80,293.82M389.80,293.82L417.12,303.84M289.25,258.07A58.20,58.20 0 0 1 286.77,263.59M286.77,263.59L364.43,303.48M366.35,299.58A145.50,145.50 0 0 1 364.43,303.48M366.35,299.58L375.11,303.75M377.00,299.62A155.20,155.20 0 0 1 375.11,303.75M377.00,299.62L385.88,303.54M387.68,299.29A164.90,164.90 0 0 1 385.88,303.54M387.68,299.29L396.66,302.96M397.65,300.48A174.60,174.60 0 0 1 396.66,302.96M397.65,300.48L415.72,307.53M396.66,302.96A174.60,174.60 0 0 1 395.64,305.42M395.64,305.42L404.56,309.22M405.29,307.49A184.30,184.30 0 0 1 404.56,309.22M405.29,307.49L414.25,311.20M404.56,309.22A184.30,184.30 0 0 1 403.82,310.94M403.82,310.94L412.70,314.83M385.88,303.54A164.90,164.90 0 0 1 383.96,307.73M383.96,307.73L401.48,316.06M402.28,314.36A184.30,184.30 0 0 1 401.48,316.06M402.28,314.36L411.08,318.43M401.48,316.06A184.30,184.30 0 0 1 400.67,317.75M400.67,317.75L409.39,322.00M375.11,303.75A155.20,155.20 0 0 1 373.10,307.82M373.10,307.82L407.62,325.53M364.43,303.48A145.50,145.50 0 0 1 362.38,307.32M362.38,307.32L396.35,326.07M397.25,324.42A184.30,184.30 0 0 1 396.35,326.07M397.25,324.42L405.79,329.02M396.35,326.07A184.30,184.30 0 0 1 395.44,327.70M395.44,327.70L403.88,332.48M277.47,260.42A48.50,48.50 0 0 1 273.98,265.86M273.98,265.86L351.94,323.58M354.47,320.04A145.50,145.50 0 0 1 351.94,323.58M354.47,320.04L362.44,325.58M364.98,321.81A155.20,155.20 0 0 1 362.44,325.58M364.98,321.81L373.10,327.11M375.57,323.22A164.90,164.90 0 0 1 373.10,327.11M375.57,323.22L383.84,328.29M385.21,326.00A174.60,174.60 0 0 1 383.84,328.29M385.21,326.00L401.90,335.89M383.84,328.29A174.60,174.60 0 0 1 382.42,330.55M382.42,330.55L390.61,335.74M391.61,334.16A184.30,184.30 0 0 1 390.61,335.74M391.61,334.16L399.85,339.27M390.61,335.74A184.30,184.30 0 0 1 389.60,337.32M389.60,337.32L397.74,342.60M373.10,327.11A164.90,164.90 0 0 1 370.52,330.94M370.52,330.94L386.47,341.99M387.53,340.45A184.30,184.30 0 0 1 386.47,341.99M387.53,340.45L395.56,345.89M386.47,341.99A184.30,184.30 0 0 1 385.39,343.53M385.39,343.53L393.31,349.14M362.44,325.58A155.20,155.20 0 0 1 359.79,329.27M359.79,329.27L390.99,352.34M351.94,323.58A145.50,145.50 0 0 1 349.30,327.03M349.30,327.03L379.78,351.04M380.93,349.56A184.30,184.30 0 0 1 379.78,351.04M380.93,349.56L388.61,355.49M379.78,351.04A184.30,184.30 0 0 1 378.61,352.51M378.61,352.51L386.17,358.59M265.65,260.79A38.80,38.80 0 0 1 261.58,265.26M261.58,265.26L334.69,342.98M338.27,339.50A145.50,145.50 0 0 1 334.69,342.98M338.27,339.50L345.15,346.33M348.17,343.21A155.20,155.20 0 0 1 345.15,346.33M348.17,343.21L355.24,349.85M358.07,346.75A164.90,164.90 0 0 1 355.24,349.85M358.07,346.75L365.31,353.21M367.65,350.53A174.60,174.60 0 0 1 365.31,353.21M367.65,350.53L375.02,356.84M376.23,355.41A184.30,184.30 0 0 1 375.02,356.84M376.23,355.41L383.66,361.64M375.02,356.84A184.30,184.30 0 0 1 373.79,358.26M373.79,358.26L381.10,364.64M365.31,353.21A174.60,174.60 0 0 1 362.92,355.83M362.92,355.83L370.03,362.44M371.30,361.06A184.30,184.30 0 0 1 370.03,362.44M371.30,361.06L378.47,367.58M370.03,362.44A184.30,184.30 0 0 1 368.74,363.80M368.74,363.80L375.78,370.48M355.24,349.85A164.90,164.90 0 0 1 352.33,352.87M352.33,352.87L373.04,373.31M345.15,346.33A155.20,155.20 0 0 1 342.05,349.37M342.05,349.37L362.12,370.44M363.47,369.14A184.30,184.30 0 0 1 362.12,370.44M363.47,369.14L370.24,376.09M362.12,370.44A184.30,184.30 0 0 1 360.76,371.73M360.76,371.73L367.38,378.82M334.69,342.98A145.50,145.50 0 0 1 330.99,346.34M330.99,346.34L356.59,375.50M357.99,374.26A184.30,184.30 0 0 1 356.59,375.50M357.99,374.26L364.46,381.48M356.59,375.50A184.30,184.30 0 0 1 355.17,376.73M355.17,376.73L361.50,384.09M253.45,259.51A29.10,29.10 0 0 1 247.98,263.04M247.98,263.04L273.94,315.13M279.10,312.34A87.30,87.30 0 0 1 273.94,315.13M279.10,312.34L293.80,337.45M297.08,335.46A116.40,116.40 0 0 1 293.80,337.45M297.08,335.46L302.26,343.67M304.93,341.93A126.10,126.10 0 0 1 302.26,343.67M304.93,341.93L310.31,350.00M312.56,348.47A135.80,135.80 0 0 1 310.31,350.00M312.56,348.47L318.10,356.43M320.44,354.77A145.50,145.50 0 0 1 318.10,356.43M320.44,354.77L326.13,362.62M328.51,360.86A155.20,155.20 0 0 1 326.13,362.62M328.51,360.86L334.36,368.60M336.69,366.81A164.90,164.90 0 0 1 334.36,368.60M336.69,366.81L342.67,374.45M344.75,372.79A174.60,174.60 0 0 1 342.67,374.45M344.75,372.79L350.85,380.34M352.30,379.15A184.30,184.30 0 0 1 350.85,380.34M352.30,379.15L358.48,386.63M350.85,380.34A184.30,184.30 0 0 1 349.39,381.51M349.39,381.51L355.41,389.11M342.67,374.45A174.60,174.60 0 0 1 340.56,376.08M340.56,376.08L352.29,391.53M334.36,368.60A164.90,164.90 0 0 1 332.00,370.35M332.00,370.35L349.12,393.89M326.13,362.62A155.20,155.20 0 0 1 323.72,364.34M323.72,364.34L345.90,396.18M318.10,356.43A145.50,145.50 0 0 1 315.73,358.05M315.73,358.05L342.64,398.40M310.31,350.00A135.80,135.80 0 0 1 308.03,351.49M308.03,351.49L339.33,400.56M302.26,343.67A126.10,126.10 0 0 1 299.54,345.33M299.54,345.33L329.33,395.33M330.93,394.36A184.30,184.30 0 0 1 329.33,395.33M330.93,394.36L335.98,402.65M329.33,395.33A184.30,184.30 0 0 1 327.71,396.28M327.71,396.28L332.59,404.67M293.80,337.45A116.40,116.40 0 0 1 290.46,339.34M290.46,339.34L322.81,399.04M324.45,398.14A184.30,184.30 0 0 1 322.81,399.04M324.45,398.14L329.16,406.62M322.81,399.04A184.30,184.30 0 0 1 321.15,399.92M321.15,399.92L325.69,408.50M273.94,315.13A87.30,87.30 0 0 1 268.61,317.57M268.61,317.57L272.34,326.52M277.26,324.31A97.00,97.00 0 0 1 272.34,326.52M277.26,324.31L311.07,394.16M313.46,392.98A174.60,174.60 0 0 1 311.07,394.16M313.46,392.98L322.18,410.31M311.07,394.16A174.60,174.60 0 0 1 308.66,395.30M308.66,395.30L312.76,404.09M314.45,403.29A184.30,184.30 0 0 1 312.76,404.09M314.45,403.29L318.64,412.05M312.76,404.09A184.30,184.30 0 0 1 311.05,404.88M311.05,404.88L315.06,413.71M272.34,326.52A97.00,97.00 0 0 1 267.31,328.46M267.31,328.46L270.54,337.61M275.54,335.70A106.70,106.70 0 0 1 270.54,337.61M275.54,335.70L301.34,398.51M303.80,397.47A174.60,174.60 0 0 1 301.34,398.51M303.80,397.47L311.44,415.30M301.34,398.51A174.60,174.60 0 0 1 298.87,399.50M298.87,399.50L302.42,408.53M304.16,407.83A184.30,184.30 0 0 1 302.42,408.53M304.16,407.83L307.80,416.82M302.42,408.53A184.30,184.30 0 0 1 300.67,409.20M300.67,409.20L304.12,418.27M270.54,337.61A106.70,106.70 0 0 1 265.45,339.26M265.45,339.26L268.22,348.56M273.14,346.98A116.40,116.40 0 0 1 268.22,348.56M273.14,346.98L295.38,411.13M297.15,410.50A184.30,184.30 0 0 1 295.38,411.13M297.15,410.50L300.42,419.64M295.38,411.13A184.30,184.30 0 0 1 293.61,411.73M293.61,411.73L296.69,420.93M268.22,348.56A116.40,116.40 0 0 1 263.24,349.92M263.24,349.92L265.60,359.33M271.43,357.72A126.10,126.10 0 0 1 265.60,359.33M271.43,357.72L288.25,413.44M290.04,412.89A184.30,184.30 0 0 1 288.25,413.44M290.04,412.89L292.94,422.15M288.25,413.44A184.30,184.30 0 0 1 286.45,413.97M286.45,413.97L289.16,423.29M265.60,359.33A126.10,126.10 0 0 1 259.69,360.66M259.69,360.66L261.59,370.17M268.24,368.67A135.80,135.80 0 0 1 261.59,370.17M268.24,368.67L277.74,406.29M280.32,405.62A174.60,174.60 0 0 1 277.74,406.29M280.32,405.62L285.35,424.35M277.74,406.29A174.60,174.60 0 0 1 275.15,406.92M275.15,406.92L277.38,416.36M279.21,415.92A184.30,184.30 0 0 1 277.38,416.36M279.21,415.92L281.53,425.34M277.38,416.36A184.30,184.30 0 0 1 275.56,416.78M275.56,416.78L277.69,426.24M261.59,370.17A135.80,135.80 0 0 1 254.87,371.34M254.87,371.34L256.29,380.93M262.67,379.84A145.50,145.50 0 0 1 256.29,380.93M262.67,379.84L270.05,417.94M271.89,417.57A184.30,184.30 0 0 1 270.05,417.94M271.89,417.57L273.83,427.07M270.05,417.94A184.30,184.30 0 0 1 268.21,418.28M268.21,418.28L269.95,427.83M256.29,380.93A145.50,145.50 0 0 1 249.86,381.74M249.86,381.74L250.85,391.39M257.51,390.56A155.20,155.20 0 0 1 250.85,391.39M257.51,390.56L260.32,409.75M262.96,409.35A174.60,174.60 0 0 1 260.32,409.75M262.96,409.35L266.06,428.50M260.32,409.75A174.60,174.60 0 0 1 257.68,410.12M257.68,410.12L258.94,419.74M260.80,419.48A184.30,184.30 0 0 1 258.94,419.74M260.80,419.48L262.16,429.09M258.94,419.74A184.30,184.30 0 0 1 257.08,419.97M257.08,419.97L258.25,429.60M250.85,391.39A155.20,155.20 0 0 1 244.16,391.93M244.16,391.93L244.73,401.61M249.75,401.24A164.90,164.90 0 0 1 244.73,401.61M249.75,401.24L251.49,420.56M253.36,420.38A184.30,184.30 0 0 1 251.49,420.56M253.36,420.38L254.32,430.04M251.49,420.56A184.30,184.30 0 0 1 249.62,420.72M249.62,420.72L250.39,430.39M244.73,401.61A164.90,164.90 0 0 1 239.70,401.83M239.70,401.83L239.98,411.53M243.53,411.39A174.60,174.60 0 0 1 239.98,411.53M243.53,411.39L244.01,421.08M245.88,420.98A184.30,184.30 0 0 1 244.01,421.08M245.88,420.98L246.45,430.66M244.01,421.08A184.30,184.30 0 0 1 242.13,421.16M242.13,421.16L242.51,430.85M239.98,411.53A174.60,174.60 0 0 1 236.43,411.59M236.43,411.59L236.51,421.29M238.38,421.27A184.30,184.30 0 0 1 236.51,421.29M238.38,421.27L238.56,430.97M236.51,421.29A184.30,184.30 0 0 1 234.63,421.30M234.63,421.30L234.61,431.00M240.88,255.49A19.40,19.40 0 0 1 233.63,256.35M233.63,256.35L228.85,324.08M233.05,324.28A87.30,87.30 0 0 1 228.85,324.08M233.05,324.28L230.67,430.95M228.85,324.08A87.30,87.30 0 0 1 224.66,323.69M224.66,323.69L223.52,333.32M229.38,333.84A97.00,97.00 0 0 1 223.52,333.32M229.38,333.84L224.89,411.31M227.55,411.44A174.60,174.60 0 0 1 224.89,411.31M227.55,411.44L226.72,430.82M224.89,411.31A174.60,174.60 0 0 1 222.23,411.13M222.23,411.13L221.52,420.81M223.39,420.93A184.30,184.30 0 0 1 221.52,420.81M223.39,420.93L222.78,430.61M221.52,420.81A184.30,184.30 0 0 1 219.65,420.66M219.65,420.66L218.84,430.33M223.52,333.32A97.00,97.00 0 0 1 217.69,332.44M217.69,332.44L215.96,341.99M222.33,342.95A106.70,106.70 0 0 1 215.96,341.99M222.33,342.95L214.27,410.37M216.92,410.66A174.60,174.60 0 0 1 214.27,410.37M216.92,410.66L214.91,429.96M214.27,410.37A174.60,174.60 0 0 1 211.63,410.03M211.63,410.03L210.33,419.64M212.19,419.88A184.30,184.30 0 0 1 210.33,419.64M212.19,419.88L210.99,429.51M210.33,419.64A184.30,184.30 0 0 1 208.47,419.38M208.47,419.38L207.08,428.98M215.96,341.99A106.70,106.70 0 0 1 209.66,340.65M209.66,340.65L207.36,350.07M214.15,351.52A116.40,116.40 0 0 1 207.36,350.07M214.15,351.52L203.73,408.78M206.36,409.23A174.60,174.60 0 0 1 203.73,408.78M206.36,409.23L203.17,428.37M203.73,408.78A174.60,174.60 0 0 1 201.11,408.28M201.11,408.28L199.23,417.80M201.07,418.15A184.30,184.30 0 0 1 199.23,417.80M201.07,418.15L199.29,427.68M199.23,417.80A184.30,184.30 0 0 1 197.39,417.42M197.39,417.42L195.41,426.92M207.36,350.07A116.40,116.40 0 0 1 200.66,348.22M200.66,348.22L197.80,357.49M204.89,359.45A126.10,126.10 0 0 1 197.80,357.49M204.89,359.45L193.31,406.55M195.90,407.17A174.60,174.60 0 0 1 193.31,406.55M195.90,407.17L191.56,426.07M193.31,406.55A174.60,174.60 0 0 1 190.73,405.89M190.73,405.89L188.27,415.28M190.08,415.74A184.30,184.30 0 0 1 188.27,415.28M190.08,415.74L187.72,425.15M188.27,415.28A184.30,184.30 0 0 1 186.46,414.79M186.46,414.79L183.90,424.15M197.80,357.49A126.10,126.10 0 0 1 190.84,355.11M190.84,355.11L187.44,364.20M194.59,366.65A135.80,135.80 0 0 1 187.44,364.20M194.59,366.65L183.04,403.69M185.59,404.46A174.60,174.60 0 0 1 183.04,403.69M185.59,404.46L180.10,423.07M183.04,403.69A174.60,174.60 0 0 1 180.50,402.88M180.50,402.88L177.48,412.09M179.26,412.67A184.30,184.30 0 0 1 177.48,412.09M179.26,412.67L176.33,421.91M177.48,412.09A184.30,184.30 0 0 1 175.70,411.50M175.70,411.50L172.58,420.68M187.44,364.20A135.80,135.80 0 0 1 180.44,361.36M180.44,361.36L176.54,370.24M183.31,373.01A145.50,145.50 0 0 1 176.54,370.24M183.31,373.01L172.97,400.21M175.47,401.14A174.60,174.60 0 0 1 172.97,400.21M175.47,401.14L168.85,419.37M172.97,400.21A174.60,174.60 0 0 1 170.48,399.24M170.48,399.24L166.90,408.26M168.65,408.94A184.30,184.30 0 0 1 166.90,408.26M168.65,408.94L165.15,417.99M166.90,408.26A184.30,184.30 0 0 1 165.16,407.56M165.16,407.56L161.49,416.53M176.54,370.24A145.50,145.50 0 0 1 169.92,367.14M169.92,367.14L165.59,375.81M171.11,378.44A155.20,155.20 0 0 1 165.59,375.81M171.11,378.44L163.13,396.12M165.56,397.20A174.60,174.60 0 0 1 163.13,396.12M165.56,397.20L157.85,415.00M163.13,396.12A174.60,174.60 0 0 1 160.71,395.00M160.71,395.00L156.58,403.78M158.28,404.57A184.30,184.30 0 0 1 156.58,403.78M158.28,404.57L154.24,413.39M156.58,403.78A184.30,184.30 0 0 1 154.89,402.98M154.89,402.98L150.67,411.71M165.59,375.81A155.20,155.20 0 0 1 160.17,372.97M160.17,372.97L155.49,381.47M158.82,383.25A164.90,164.90 0 0 1 155.49,381.47M158.82,383.25L149.86,400.45M151.52,401.31A184.30,184.30 0 0 1 149.86,400.45M151.52,401.31L147.13,409.96M149.86,400.45A184.30,184.30 0 0 1 148.20,399.58M148.20,399.58L143.63,408.14M155.49,381.47A164.90,164.90 0 0 1 152.21,379.61M152.21,379.61L147.33,388.00M149.65,389.32A174.60,174.60 0 0 1 147.33,388.00M149.65,389.32L140.17,406.24M147.33,388.00A174.60,174.60 0 0 1 145.04,386.64M145.04,386.64L140.04,394.95M141.65,395.91A184.30,184.30 0 0 1 140.04,394.95M141.65,395.91L136.74,404.28M140.04,394.95A184.30,184.30 0 0 1 138.44,393.98M138.44,393.98L133.36,402.24" fill="none" stroke="#55bb9c" stroke-width="1.05"/>
<path d="M230.82,245.76A9.70,9.70 0 0 1 225.97,240.53M225.97,240.53L171.76,261.72M180.37,277.32A67.90,67.90 0 0 1 171.76,261.72M180.37,277.32L156.96,294.60M165.78,304.96A97.00,97.00 0 0 1 156.96,294.60M165.78,304.96L158.86,311.75M161.26,314.12A106.70,106.70 0 0 1 158.86,311.75M161.26,314.12L154.56,321.13M157.35,323.71A116.40,116.40 0 0 1 154.56,321.13M157.35,323.71L150.88,330.94M154.20,333.81A126.10,126.10 0 0 1 150.88,330.94M154.20,333.81L147.98,341.26M151.04,343.73A135.80,135.80 0 0 1 147.98,341.26M151.04,343.73L145.04,351.36M148.20,353.77A145.50,145.50 0 0 1 145.04,351.36M148.20,353.77L142.41,361.56M145.45,363.76A155.20,155.20 0 0 1 142.41,361.56M145.45,363.76L139.85,371.68M142.27,373.35A164.90,164.90 0 0 1 139.85,371.68M142.27,373.35L136.81,381.37M139.03,382.86A174.60,174.60 0 0 1 136.81,381.37M139.03,382.86L133.69,390.96M135.27,391.98A184.30,184.30 0 0 1 133.69,390.96M135.27,391.98L130.02,400.14M133.69,390.96A184.30,184.30 0 0 1 132.13,389.92M132.13,389.92L126.72,397.97M136.81,381.37A174.60,174.60 0 0 1 134.62,379.86M134.62,379.86L123.47,395.73M139.85,371.68A164.90,164.90 0 0 1 137.47,369.97M137.47,369.97L120.26,393.43M142.41,361.56A155.20,155.20 0 0 1 139.43,359.28M139.43,359.28L121.51,382.21M122.99,383.36A184.30,184.30 0 0 1 121.51,382.21M122.99,383.36L117.10,391.06M121.51,382.21A184.30,184.30 0 0 1 120.04,381.05M120.04,381.05L113.99,388.63M145.04,351.36A145.50,145.50 0 0 1 141.95,348.85M141.95,348.85L110.93,386.14M147.98,341.26A135.80,135.80 0 0 1 145.00,338.70M145.00,338.70L112.86,375.02M114.27,376.25A184.30,184.30 0 0 1 112.86,375.02M114.27,376.25L107.92,383.58M112.86,375.02A184.30,184.30 0 0 1 111.46,373.77M111.46,373.77L104.96,380.97M150.88,330.94A126.10,126.10 0 0 1 147.66,327.95M147.66,327.95L107.35,369.93M108.71,371.23A184.30,184.30 0 0 1 107.35,369.93M108.71,371.23L102.06,378.29M107.35,369.93A184.30,184.30 0 0 1 106.00,368.63M106.00,368.63L99.21,375.56M154.56,321.13A116.40,116.40 0 0 1 151.85,318.46M151.85,318.46L96.42,372.76M158.86,311.75A106.70,106.70 0 0 1 156.54,309.31M156.54,309.31L99.47,361.90M100.75,363.27A184.30,184.30 0 0 1 99.47,361.90M100.75,363.27L93.69,369.92M99.47,361.90A184.30,184.30 0 0 1 98.21,360.51M98.21,360.51L91.01,367.01M156.96,294.60A97.00,97.00 0 0 1 149.66,283.12M149.66,283.12L124.06,296.95M127.94,303.63A126.10,126.10 0 0 1 124.06,296.95M127.94,303.63L119.70,308.75M123.92,315.13A135.80,135.80 0 0 1 119.70,308.75M123.92,315.13L115.99,320.71M120.46,326.72A145.50,145.50 0 0 1 115.99,320.71M120.46,326.72L112.82,332.70M116.69,337.45A155.20,155.20 0 0 1 112.82,332.70M116.69,337.45L94.50,356.28M95.73,357.70A184.30,184.30 0 0 1 94.50,356.28M95.73,357.70L88.40,364.06M94.50,356.28A184.30,184.30 0 0 1 93.30,354.84M93.30,354.84L85.84,361.05M112.82,332.70A155.20,155.20 0 0 1 109.14,327.81M109.14,327.81L101.28,333.49M103.52,336.53A164.90,164.90 0 0 1 101.28,333.49M103.52,336.53L95.79,342.38M97.41,344.49A174.60,174.60 0 0 1 95.79,342.38M97.41,344.49L89.77,350.46M90.93,351.94A184.30,184.30 0 0 1 89.77,350.46M90.93,351.94L83.35,357.99M89.77,350.46A184.30,184.30 0 0 1 88.62,348.98M88.62,348.98L80.92,354.87M95.79,342.38A174.60,174.60 0 0 1 94.19,340.24M94.19,340.24L78.55,351.71M101.28,333.49A164.90,164.90 0 0 1 99.10,330.40M99.10,330.40L83.12,341.39M84.19,342.93A184.30,184.30 0 0 1 83.12,341.39M84.19,342.93L76.25,348.51M83.12,341.39A184.30,184.30 0 0 1 82.06,339.84M82.06,339.84L74.01,345.25M115.99,320.71A145.50,145.50 0 0 1 111.84,314.47M111.84,314.47L78.99,335.12M80.00,336.71A184.30,184.30 0 0 1 78.99,335.12M80.00,336.71L71.84,341.95M78.99,335.12A184.30,184.30 0 0 1 78.00,333.53M78.00,333.53L69.74,338.61M119.70,308.75A135.80,135.80 0 0 1 115.85,302.15M115.85,302.15L81.81,320.77M83.54,323.87A174.60,174.60 0 0 1 81.81,320.77M83.54,323.87L75.13,328.70M76.07,330.32A184.30,184.30 0 0 1 75.13,328.70M76.07,330.32L67.71,335.23M75.13,328.70A184.30,184.30 0 0 1 74.21,327.06M74.21,327.06L65.74,331.80M81.81,320.77A174.60,174.60 0 0 1 80.13,317.63M80.13,317.63L71.53,322.11M72.41,323.77A184.30,184.30 0 0 1 71.53,322.11M72.41,323.77L63.85,328.34M71.53,322.11A184.30,184.30 0 0 1 70.67,320.45M70.67,320.45L62.02,324.84M124.06,296.95A126.10,126.10 0 0 1 120.60,290.06M120.60,290.06L76.61,310.46M77.75,312.87A174.60,174.60 0 0 1 76.61,310.46M77.75,312.87L60.27,321.30M76.61,310.46A174.60,174.60 0 0 1 75.50,308.04M75.50,308.04L66.64,311.98M67.41,313.69A184.30,184.30 0 0 1 66.64,311.98M67.41,313.69L58.59,317.73M66.64,311.98A184.30,184.30 0 0 1 65.89,310.27M65.89,310.27L56.99,314.12M171.76,261.72A67.90,67.90 0 0 1 167.51,244.42M167.51,244.42L157.86,245.48M159.87,256.43A77.60,77.60 0 0 1 157.86,245.48M159.87,256.43L103.52,270.99M104.89,275.90A135.80,135.80 0 0 1 103.52,270.99M104.89,275.90L95.60,278.68M97.11,283.44A145.50,145.50 0 0 1 95.60,278.68M97.11,283.44L87.92,286.54M89.92,292.11A155.20,155.20 0 0 1 87.92,286.54M89.92,292.11L80.85,295.56M82.39,299.46A164.90,164.90 0 0 1 80.85,295.56M82.39,299.46L55.46,310.48M80.85,295.56A164.90,164.90 0 0 1 79.41,291.62M79.41,291.62L70.26,294.83M71.47,298.17A174.60,174.60 0 0 1 70.26,294.83M71.47,298.17L62.38,301.57M63.05,303.32A184.30,184.30 0 0 1 62.38,301.57M63.05,303.32L54.00,306.81M62.38,301.57A184.30,184.30 0 0 1 61.73,299.81M61.73,299.81L52.61,303.12M70.26,294.83A174.60,174.60 0 0 1 69.11,291.47M69.11,291.47L59.90,294.49M60.49,296.27A184.30,184.30 0 0 1 59.90,294.49M60.49,296.27L51.31,299.39M59.90,294.49A184.30,184.30 0 0 1 59.32,292.71M59.32,292.71L50.07,295.64M87.92,286.54A155.20,155.20 0 0 1 86.14,280.89M86.14,280.89L48.92,291.87M95.60,278.68A145.50,145.50 0 0 1 94.25,273.87M94.25,273.87L56.72,283.70M57.20,285.51A184.30,184.30 0 0 1 56.72,283.70M57.20,285.51L47.84,288.07M56.72,283.70A184.30,184.30 0 0 1 56.25,281.89M56.25,281.89L46.84,284.25M103.52,270.99A135.80,135.80 0 0 1 102.34,266.04M102.34,266.04L54.96,276.41M55.37,278.24A184.30,184.30 0 0 1 54.96,276.41M55.37,278.24L45.92,280.41M54.96,276.41A184.30,184.30 0 0 1 54.57,274.58M54.57,274.58L45.07,276.55M157.86,245.48A77.60,77.60 0 0 1 157.44,234.36M157.44,234.36L147.75,234.03M148.15,245.80A87.30,87.30 0 0 1 147.75,234.03M148.15,245.80L80.59,252.65M81.09,256.97A155.20,155.20 0 0 1 80.59,252.65M81.09,256.97L71.47,258.21M72.06,262.37A164.90,164.90 0 0 1 71.47,258.21M72.06,262.37L62.48,263.86M63.06,267.36A174.60,174.60 0 0 1 62.48,263.86M63.06,267.36L53.51,269.05M53.84,270.90A184.30,184.30 0 0 1 53.51,269.05M53.84,270.90L44.31,272.68M53.51,269.05A184.30,184.30 0 0 1 53.19,267.20M53.19,267.20L43.62,268.79M62.48,263.86A174.60,174.60 0 0 1 61.97,260.34M61.97,260.34L52.35,261.64M52.61,263.50A184.30,184.30 0 0 1 52.35,261.64M52.61,263.50L43.02,264.89M52.35,261.64A184.30,184.30 0 0 1 52.11,259.78M52.11,259.78L42.49,260.98M71.47,258.21A164.90,164.90 0 0 1 70.98,254.05M70.98,254.05L42.04,257.06M80.59,252.65A155.20,155.20 0 0 1 80.21,248.33M80.21,248.33L51.19,250.45M51.34,252.32A184.30,184.30 0 0 1 51.19,250.45M51.34,252.32L41.67,253.13M51.19,250.45A184.30,184.30 0 0 1 51.06,248.58M51.06,248.58L41.38,249.19M147.75,234.03A87.30,87.30 0 0 1 148.95,222.31M148.95,222.31L139.38,220.68M138.44,227.78A97.00,97.00 0 0 1 139.38,220.68M138.44,227.78L99.81,224.10M99.44,228.87A135.80,135.80 0 0 1 99.81,224.10M99.44,228.87L89.76,228.29M89.57,232.64A145.50,145.50 0 0 1 89.76,228.29M89.57,232.64L79.87,232.35M79.80,236.89A155.20,155.20 0 0 1 79.87,232.35M79.80,236.89L70.10,236.88M70.16,241.49A164.90,164.90 0 0 1 70.10,236.88M70.16,241.49L60.46,241.76M60.56,244.42A174.60,174.60 0 0 1 60.46,241.76M60.56,244.42L41.18,245.25M60.46,241.76A174.60,174.60 0 0 1 60.41,239.09M60.41,239.09L50.71,239.21M50.75,241.08A184.30,184.30 0 0 1 50.71,239.21M50.75,241.08L41.05,241.30M50.71,239.21A184.30,184.30 0 0 1 50.70,237.33M50.70,237.33L41.00,237.35M70.10,236.88A164.90,164.90 0 0 1 70.17,232.27M70.17,232.27L50.78,231.71M50.73,233.58A184.30,184.30 0 0 1 50.78,231.71M50.73,233.58L41.03,233.40M50.78,231.71A184.30,184.30 0 0 1 50.84,229.84M50.84,229.84L41.15,229.46M79.87,232.35A155.20,155.20 0 0 1 80.07,227.81M80.07,227.81L41.34,225.51M89.76,228.29A145.50,145.50 0 0 1 90.09,223.96M90.09,223.96L51.44,220.48M51.28,222.35A184.30,184.30 0 0 1 51.44,220.48M51.28,222.35L41.61,221.58M51.44,220.48A184.30,184.30 0 0 1 51.62,218.61M51.62,218.61L41.97,217.64M99.81,224.10A135.80,135.80 0 0 1 100.35,219.33M100.35,219.33L52.27,213.02M52.03,214.88A184.30,184.30 0 0 1 52.27,213.02M52.03,214.88L42.40,213.72M52.27,213.02A184.30,184.30 0 0 1 52.52,211.17M52.52,211.17L42.92,209.81M139.38,220.68A97.00,97.00 0 0 1 140.85,213.66M140.85,213.66L131.44,211.32M130.25,216.69A106.70,106.70 0 0 1 131.44,211.32M130.25,216.69L63.59,203.77M62.95,207.26A174.60,174.60 0 0 1 63.59,203.77M62.95,207.26L53.39,205.61M53.08,207.46A184.30,184.30 0 0 1 53.39,205.61M53.08,207.46L43.51,205.90M53.39,205.61A184.30,184.30 0 0 1 53.72,203.76M53.72,203.76L44.18,202.01M63.59,203.77A174.60,174.60 0 0 1 64.30,200.28M64.30,200.28L54.82,198.24M54.44,200.08A184.30,184.30 0 0 1 54.82,198.24M54.44,200.08L44.93,198.14M54.82,198.24A184.30,184.30 0 0 1 55.22,196.41M55.22,196.41L45.76,194.28M131.44,211.32A106.70,106.70 0 0 1 132.89,206.03M132.89,206.03L123.61,203.21M122.29,207.91A116.40,116.40 0 0 1 123.61,203.21M122.29,207.91L56.55,190.95M56.09,192.76A184.30,184.30 0 0 1 56.55,190.95M56.09,192.76L46.67,190.44M56.55,190.95A184.30,184.30 0 0 1 57.02,189.13M57.02,189.13L47.66,186.61M123.61,203.21A116.40,116.40 0 0 1 125.13,198.57M125.13,198.57L115.97,195.36M114.28,200.55A126.10,126.10 0 0 1 115.97,195.36M114.28,200.55L58.57,183.72M58.04,185.52A184.30,184.30 0 0 1 58.57,183.72M58.04,185.52L48.72,182.81M58.57,183.72A184.30,184.30 0 0 1 59.12,181.93M59.12,181.93L49.86,179.03M115.97,195.36A126.10,126.10 0 0 1 117.88,190.26M117.88,190.26L108.88,186.66M106.70,192.49A135.80,135.80 0 0 1 108.88,186.66M106.70,192.49L60.88,176.59M60.28,178.36A184.30,184.30 0 0 1 60.88,176.59M60.28,178.36L51.08,175.28M60.88,176.59A184.30,184.30 0 0 1 61.51,174.82M61.51,174.82L52.38,171.55M108.88,186.66A135.80,135.80 0 0 1 111.31,180.94M111.31,180.94L102.48,176.93M99.87,183.06A145.50,145.50 0 0 1 102.48,176.93M99.87,183.06L72.84,172.28M71.87,174.76A174.60,174.60 0 0 1 72.84,172.28M71.87,174.76L53.75,167.84M72.84,172.28A174.60,174.60 0 0 1 73.85,169.81M73.85,169.81L64.89,166.08M64.18,167.81A184.30,184.30 0 0 1 64.89,166.08M64.18,167.81L55.19,164.17M64.89,166.08A184.30,184.30 0 0 1 65.62,164.35M65.62,164.35L56.71,160.53M102.48,176.93A145.50,145.50 0 0 1 105.36,170.93M105.36,170.93L96.72,166.53M94.30,171.50A155.20,155.20 0 0 1 96.72,166.53M94.30,171.50L67.92,159.21M67.14,160.92A184.30,184.30 0 0 1 67.92,159.21M67.14,160.92L58.30,156.91M67.92,159.21A184.30,184.30 0 0 1 68.72,157.52M68.72,157.52L59.97,153.33M96.72,166.53A155.20,155.20 0 0 1 99.32,161.65M99.32,161.65L90.84,156.94M88.46,161.38A164.90,164.90 0 0 1 90.84,156.94M88.46,161.38L71.22,152.48M70.37,154.15A184.30,184.30 0 0 1 71.22,152.48M70.37,154.15L61.71,149.79M71.22,152.48A184.30,184.30 0 0 1 72.09,150.82M72.09,150.82L63.52,146.28M90.84,156.94A164.90,164.90 0 0 1 93.35,152.58M93.35,152.58L85.02,147.61M83.23,150.68A174.60,174.60 0 0 1 85.02,147.61M83.23,150.68L74.80,145.89M73.88,147.52A184.30,184.30 0 0 1 74.80,145.89M73.88,147.52L65.40,142.81M74.80,145.89A184.30,184.30 0 0 1 75.73,144.26M75.73,144.26L67.35,139.38M85.02,147.61A174.60,174.60 0 0 1 86.87,144.58M86.87,144.58L78.64,139.44M77.65,141.04A184.30,184.30 0 0 1 78.64,139.44M77.65,141.04L69.37,135.99M78.64,139.44A184.30,184.30 0 0 1 79.64,137.86M79.64,137.86L71.46,132.64" fill="none" stroke="#c9de7c" stroke-width="1.05"/>
<path d="M235.00,237.00L211.72,152.86M182.43,167.30A87.30,87.30 0 0 1 211.72,152.86M182.43,167.30L176.59,159.56M173.14,162.28A97.00,97.00 0 0 1 176.59,159.56M173.14,162.28L166.96,154.81M163.34,157.95A106.70,106.70 0 0 1 166.96,154.81M163.34,157.95L156.82,150.76M152.69,154.70A116.40,116.40 0 0 1 156.82,150.76M152.69,154.70L145.83,147.84M142.15,151.67A126.10,126.10 0 0 1 145.83,147.84M142.15,151.67L135.01,145.11M131.55,149.02A135.80,135.80 0 0 1 135.01,145.11M131.55,149.02L124.16,142.74M120.82,146.82A145.50,145.50 0 0 1 124.16,142.74M120.82,146.82L113.20,140.81M110.21,144.73A155.20,155.20 0 0 1 113.20,140.81M110.21,144.73L102.41,138.96M100.20,142.02A164.90,164.90 0 0 1 102.41,138.96M100.20,142.02L92.27,136.44M90.75,138.63A174.60,174.60 0 0 1 92.27,136.44M90.75,138.63L82.74,133.16M81.69,134.72A184.30,184.30 0 0 1 82.74,133.16M81.69,134.72L73.62,129.33M82.74,133.16A184.30,184.30 0 0 1 83.80,131.62M83.80,131.62L75.84,126.07M92.27,136.44A174.60,174.60 0 0 1 93.82,134.27M93.82,134.27L78.13,122.85M102.41,138.96A164.90,164.90 0 0 1 104.69,135.95M104.69,135.95L89.36,124.06M88.22,125.55A184.30,184.30 0 0 1 89.36,124.06M88.22,125.55L80.49,119.69M89.36,124.06A184.30,184.30 0 0 1 90.51,122.59M90.51,122.59L82.91,116.57M113.20,140.81A155.20,155.20 0 0 1 116.32,136.98M116.32,136.98L94.07,118.23M92.87,119.67A184.30,184.30 0 0 1 94.07,118.23M92.87,119.67L85.39,113.50M94.07,118.23A184.30,184.30 0 0 1 95.29,116.80M95.29,116.80L87.94,110.48M124.16,142.74A145.50,145.50 0 0 1 127.65,138.79M127.65,138.79L99.02,112.60M97.76,113.99A184.30,184.30 0 0 1 99.02,112.60M97.76,113.99L90.54,107.51M99.02,112.60A184.30,184.30 0 0 1 100.29,111.22M100.29,111.22L93.21,104.60M135.01,145.11A135.80,135.80 0 0 1 138.62,141.33M138.62,141.33L104.20,107.17M102.88,108.50A184.30,184.30 0 0 1 104.20,107.17M102.88,108.50L95.93,101.74M104.20,107.17A184.30,184.30 0 0 1 105.52,105.84M105.52,105.84L98.71,98.94M145.83,147.84A126.10,126.10 0 0 1 149.66,144.16M149.66,144.16L116.84,108.46M114.89,110.27A174.60,174.60 0 0 1 116.84,108.46M114.89,110.27L101.55,96.19M116.84,108.46A174.60,174.60 0 0 1 118.82,106.67M118.82,106.67L112.36,99.43M110.97,100.68A184.30,184.30 0 0 1 112.36,99.43M110.97,100.68L104.44,93.51M112.36,99.43A184.30,184.30 0 0 1 113.77,98.19M113.77,98.19L107.39,90.88M156.82,150.76A116.40,116.40 0 0 1 161.14,147.03M161.14,147.03L118.06,94.55M116.62,95.75A184.30,184.30 0 0 1 118.06,94.55M116.62,95.75L110.39,88.31M118.06,94.55A184.30,184.30 0 0 1 119.52,93.37M119.52,93.37L113.44,85.81M166.96,154.81A106.70,106.70 0 0 1 170.71,151.84M170.71,151.84L123.95,89.91M122.46,91.05A184.30,184.30 0 0 1 123.95,89.91M122.46,91.05L116.54,83.37M123.95,89.91A184.30,184.30 0 0 1 125.46,88.79M125.46,88.79L119.69,80.99M176.59,159.56A97.00,97.00 0 0 1 180.16,156.99M180.16,156.99L136.29,92.98M134.10,94.51A174.60,174.60 0 0 1 136.29,92.98M134.10,94.51L122.89,78.67M136.29,92.98A174.60,174.60 0 0 1 138.50,91.49M138.50,91.49L133.14,83.41M131.58,84.45A184.30,184.30 0 0 1 133.14,83.41M131.58,84.45L126.14,76.42M133.14,83.41A184.30,184.30 0 0 1 134.70,82.38M134.70,82.38L129.43,74.24M211.72,152.86A87.30,87.30 0 0 1 244.26,150.19M244.26,150.19L245.28,140.55M212.73,142.59A97.00,97.00 0 0 1 245.28,140.55M212.73,142.59L210.50,133.15M203.43,135.08A106.70,106.70 0 0 1 210.50,133.15M203.43,135.08L200.56,125.81M196.10,127.29A116.40,116.40 0 0 1 200.56,125.81M196.10,127.29L192.86,118.15M188.13,119.93A126.10,126.10 0 0 1 192.86,118.15M188.13,119.93L184.52,110.93M179.59,113.02A135.80,135.80 0 0 1 184.52,110.93M179.59,113.02L175.64,104.16M170.61,106.52A145.50,145.50 0 0 1 175.64,104.16M170.61,106.52L166.32,97.82M161.41,100.36A155.20,155.20 0 0 1 166.32,97.82M161.41,100.36L156.81,91.82M152.41,94.27A164.90,164.90 0 0 1 156.81,91.82M152.41,94.27L147.55,85.88M144.50,87.69A174.60,174.60 0 0 1 147.55,85.88M144.50,87.69L139.47,79.39M137.87,80.37A184.30,184.30 0 0 1 139.47,79.39M137.87,80.37L132.76,72.13M139.47,79.39A184.30,184.30 0 0 1 141.08,78.43M141.08,78.43L136.14,70.08M147.55,85.88A174.60,174.60 0 0 1 150.65,84.13M150.65,84.13L145.96,75.63M144.32,76.55A184.30,184.30 0 0 1 145.96,75.63M144.32,76.55L139.55,68.10M145.96,75.63A184.30,184.30 0 0 1 147.61,74.74M147.61,74.74L143.01,66.20M156.81,91.82A164.90,164.90 0 0 1 161.28,89.50M161.28,89.50L152.60,72.15M150.93,72.99A184.30,184.30 0 0 1 152.60,72.15M150.93,72.99L146.50,64.36M152.60,72.15A184.30,184.30 0 0 1 154.28,71.32M154.28,71.32L150.04,62.60M166.32,97.82A155.20,155.20 0 0 1 171.32,95.47M171.32,95.47L159.38,68.93M157.67,69.71A184.30,184.30 0 0 1 159.38,68.93M157.67,69.71L153.60,60.90M159.38,68.93A184.30,184.30 0 0 1 161.09,68.17M161.09,68.17L157.20,59.28M175.64,104.16A145.50,145.50 0 0 1 180.75,101.99M180.75,101.99L166.28,65.99M164.54,66.70A184.30,184.30 0 0 1 166.28,65.99M164.54,66.70L160.83,57.74M166.28,65.99A184.30,184.30 0 0 1 168.02,65.30M168.02,65.30L164.50,56.26M184.52,110.93A135.80,135.80 0 0 1 189.53,109.04M189.53,109.04L173.29,63.34M171.53,63.97A184.30,184.30 0 0 1 173.29,63.34M171.53,63.97L168.19,54.87M173.29,63.34A184.30,184.30 0 0 1 175.06,62.72M175.06,62.72L171.91,53.55M192.86,118.15A126.10,126.10 0 0 1 197.65,116.56M197.65,116.56L180.41,60.97M178.62,61.53A184.30,184.30 0 0 1 180.41,60.97M178.62,61.53L175.66,52.30M180.41,60.97A184.30,184.30 0 0 1 182.21,60.42M182.21,60.42L179.43,51.13M200.56,125.81A116.40,116.40 0 0 1 205.08,124.51M205.08,124.51L187.62,58.89M185.81,59.39A184.30,184.30 0 0 1 187.62,58.89M185.81,59.39L183.22,50.04M187.62,58.89A184.30,184.30 0 0 1 189.43,58.42M189.43,58.42L187.04,49.02M210.50,133.15A106.70,106.70 0 0 1 217.68,131.71M217.68,131.71L216.11,122.14M210.26,123.26A116.40,116.40 0 0 1 216.11,122.14M210.26,123.26L197.88,66.39M195.28,66.98A174.60,174.60 0 0 1 197.88,66.39M195.28,66.98L190.87,48.09M197.88,66.39A174.60,174.60 0 0 1 200.49,65.84M200.49,65.84L198.57,56.34M196.74,56.72A184.30,184.30 0 0 1 198.57,56.34M196.74,56.72L194.72,47.23M198.57,56.34A184.30,184.30 0 0 1 200.42,55.97M200.42,55.97L198.59,46.45M216.11,122.14A116.40,116.40 0 0 1 222.01,121.33M222.01,121.33L220.93,111.69M215.13,112.48A126.10,126.10 0 0 1 220.93,111.69M215.13,112.48L205.96,55.00M204.11,55.31A184.30,184.30 0 0 1 205.96,55.00M204.11,55.31L202.48,45.75M205.96,55.00A184.30,184.30 0 0 1 207.81,54.72M207.81,54.72L206.38,45.12M220.93,111.69A126.10,126.10 0 0 1 226.76,111.17M226.76,111.17L226.13,101.49M219.76,102.06A135.80,135.80 0 0 1 226.13,101.49M219.76,102.06L215.41,63.50M212.76,63.82A174.60,174.60 0 0 1 215.41,63.50M212.76,63.82L210.29,44.58M215.41,63.50A174.60,174.60 0 0 1 218.06,63.22M218.06,63.22L217.11,53.57M215.25,53.76A184.30,184.30 0 0 1 217.11,53.57M215.25,53.76L214.21,44.12M217.11,53.57A184.30,184.30 0 0 1 218.98,53.40M218.98,53.40L218.14,43.73M226.13,101.49A135.80,135.80 0 0 1 232.51,101.22M232.51,101.22L232.33,91.52M226.78,91.73A145.50,145.50 0 0 1 232.33,91.52M226.78,91.73L224.59,52.99M222.72,53.11A184.30,184.30 0 0 1 224.59,52.99M222.72,53.11L222.08,43.43M224.59,52.99A184.30,184.30 0 0 1 226.47,52.90M226.47,52.90L226.02,43.21M232.33,91.52A145.50,145.50 0 0 1 237.88,91.53M237.88,91.53L238.08,81.83M232.55,81.82A155.20,155.20 0 0 1 238.08,81.83M232.55,81.82L232.09,52.72M230.21,52.76A184.30,184.30 0 0 1 232.09,52.72M230.21,52.76L229.96,43.07M232.09,52.72A184.30,184.30 0 0 1 233.96,52.70M233.96,52.70L233.91,43.00M238.08,81.83A155.20,155.20 0 0 1 243.60,82.04M243.60,82.04L244.14,72.35M239.11,72.15A164.90,164.90 0 0 1 244.14,72.35M239.11,72.15L239.59,52.76M237.71,52.72A184.30,184.30 0 0 1 239.59,52.76M237.71,52.72L237.86,43.02M239.59,52.76A184.30,184.30 0 0 1 241.46,52.81M241.46,52.81L241.80,43.12M244.14,72.35A164.90,164.90 0 0 1 249.16,72.71M249.16,72.71L249.99,63.04M246.45,62.78A174.60,174.60 0 0 1 249.99,63.04M246.45,62.78L247.08,53.10M245.21,52.98A184.30,184.30 0 0 1 247.08,53.10M245.21,52.98L245.75,43.30M247.08,53.10A184.30,184.30 0 0 1 248.95,53.23M248.95,53.23L249.69,43.56M249.99,63.04A174.60,174.60 0 0 1 253.53,63.39M253.53,63.39L254.56,53.74M252.69,53.55A184.30,184.30 0 0 1 254.56,53.74M252.69,53.55L253.62,43.90M254.56,53.74A184.30,184.30 0 0 1 256.42,53.95M256.42,53.95L257.55,44.31M245.28,140.55A97.00,97.00 0 0 1 276.68,149.41M276.68,149.41L280.85,140.65M273.73,137.58A106.70,106.70 0 0 1 280.85,140.65M273.73,137.58L277.25,128.54M272.86,126.93A116.40,116.40 0 0 1 277.25,128.54M272.86,126.93L276.01,117.76M271.26,116.23A126.10,126.10 0 0 1 276.01,117.76M271.26,116.23L274.05,106.94M269.02,105.53A135.80,135.80 0 0 1 274.05,106.94M269.02,105.53L271.45,96.14M266.32,94.91A145.50,145.50 0 0 1 271.45,96.14M266.32,94.91L268.41,85.44M263.57,84.45A155.20,155.20 0 0 1 268.41,85.44M263.57,84.45L265.36,74.92M261.64,74.27A164.90,164.90 0 0 1 265.36,74.92M261.64,74.27L263.21,64.69M260.58,64.28A174.60,174.60 0 0 1 263.21,64.69M260.58,64.28L262.00,54.69M260.14,54.42A184.30,184.30 0 0 1 262.00,54.69M260.14,54.42L261.46,44.81M262.00,54.69A184.30,184.30 0 0 1 263.85,54.97M263.85,54.97L265.37,45.39M263.21,64.69A174.60,174.60 0 0 1 265.84,65.14M265.84,65.14L269.26,46.05M265.36,74.92A164.90,164.90 0 0 1 269.06,75.66M269.06,75.66L273.07,56.67M271.23,56.30A184.30,184.30 0 0 1 273.07,56.67M271.23,56.30L273.14,46.79M273.07,56.67A184.30,184.30 0 0 1 274.90,57.07M274.90,57.07L277.00,47.60M268.41,85.44A155.20,155.20 0 0 1 273.21,86.58M273.21,86.58L280.38,58.37M278.56,57.92A184.30,184.30 0 0 1 280.38,58.37M278.56,57.92L280.85,48.50M280.38,58.37A184.30,184.30 0 0 1 282.19,58.84M282.19,58.84L284.67,49.47M271.45,96.14A145.50,145.50 0 0 1 276.53,97.55M276.53,97.55L287.61,60.37M285.81,59.84A184.30,184.30 0 0 1 287.61,60.37M285.81,59.84L288.48,50.52M287.61,60.37A184.30,184.30 0 0 1 289.40,60.91M289.40,60.91L292.26,51.64M274.05,106.94A135.80,135.80 0 0 1 279.03,108.53M279.03,108.53L294.75,62.65M292.97,62.06A184.30,184.30 0 0 1 294.75,62.65M292.97,62.06L296.02,52.85M294.75,62.65A184.30,184.30 0 0 1 296.52,63.27M296.52,63.27L299.76,54.13M276.01,117.76A126.10,126.10 0 0 1 280.70,119.47M280.70,119.47L301.79,65.23M300.04,64.56A184.30,184.30 0 0 1 301.79,65.23M300.04,64.56L303.47,55.48M301.79,65.23A184.30,184.30 0 0 1 303.54,65.92M303.54,65.92L307.15,56.91M277.25,128.54A116.40,116.40 0 0 1 281.57,130.32M281.57,130.32L308.73,68.09M307.01,67.35A184.30,184.30 0 0 1 308.73,68.09M307.01,67.35L310.80,58.42M308.73,68.09A184.30,184.30 0 0 1 310.44,68.85M310.44,68.85L314.41,60.00M280.85,140.65A106.70,106.70 0 0 1 287.73,144.24M287.73,144.24L292.52,135.81M286.40,132.56A116.40,116.40 0 0 1 292.52,135.81M286.40,132.56L312.10,80.34M309.70,79.19A174.60,174.60 0 0 1 312.10,80.34M309.70,79.19L318.00,61.65M312.10,80.34A174.60,174.60 0 0 1 314.48,81.54M314.48,81.54L318.90,72.90M317.22,72.06A184.30,184.30 0 0 1 318.90,72.90M317.22,72.06L321.55,63.38M318.90,72.90A184.30,184.30 0 0 1 320.56,73.77M320.56,73.77L325.07,65.17M292.52,135.81A116.40,116.40 0 0 1 298.44,139.41M298.44,139.41L303.73,131.28M297.48,127.47A126.10,126.10 0 0 1 303.73,131.28M297.48,127.47L321.51,85.34M319.19,84.04A174.60,174.60 0 0 1 321.51,85.34M319.19,84.04L328.54,67.04M321.51,85.34A174.60,174.60 0 0 1 323.82,86.68M323.82,86.68L328.75,78.33M327.13,77.38A184.30,184.30 0 0 1 328.75,78.33M327.13,77.38L331.98,68.98M328.75,78.33A184.30,184.30 0 0 1 330.36,79.29M330.36,79.29L335.38,70.99M303.73,131.28A126.10,126.10 0 0 1 309.75,135.44M309.75,135.44L315.50,127.63M309.36,123.37A135.80,135.80 0 0 1 315.50,127.63M309.36,123.37L330.61,90.90M328.36,89.46A174.60,174.60 0 0 1 330.61,90.90M328.36,89.46L338.74,73.07M330.61,90.90A174.60,174.60 0 0 1 332.82,92.38M332.82,92.38L338.26,84.34M336.70,83.30A184.30,184.30 0 0 1 338.26,84.34M336.70,83.30L342.05,75.21M338.26,84.34A184.30,184.30 0 0 1 339.81,85.40M339.81,85.40L345.32,77.42M315.50,127.63A135.80,135.80 0 0 1 321.39,132.22M321.39,132.22L327.56,124.74M321.95,120.34A145.50,145.50 0 0 1 327.56,124.74M321.95,120.34L339.34,97.01M337.19,95.43A174.60,174.60 0 0 1 339.34,97.01M337.19,95.43L348.55,79.70M339.34,97.01A174.60,174.60 0 0 1 341.47,98.62M341.47,98.62L347.38,90.93M345.89,89.79A184.30,184.30 0 0 1 347.38,90.93M345.89,89.79L351.73,82.04M347.38,90.93A184.30,184.30 0 0 1 348.86,92.08M348.86,92.08L354.85,84.45M327.56,124.74A145.50,145.50 0 0 1 332.94,129.40M332.94,129.40L339.47,122.23M334.56,117.94A155.20,155.20 0 0 1 339.47,122.23M334.56,117.94L353.23,95.62M351.79,94.43A184.30,184.30 0 0 1 353.23,95.62M351.79,94.43L357.93,86.92M353.23,95.62A184.30,184.30 0 0 1 354.66,96.83M354.66,96.83L360.96,89.45M339.47,122.23A155.20,155.20 0 0 1 344.20,126.71M344.20,126.71L351.02,119.82M346.47,115.48A164.90,164.90 0 0 1 351.02,119.82M346.47,115.48L353.02,108.33M351.04,106.54A174.60,174.60 0 0 1 353.02,108.33M351.04,106.54L363.94,92.05M353.02,108.33A174.60,174.60 0 0 1 354.97,110.15M354.97,110.15L361.64,103.10M360.27,101.82A184.30,184.30 0 0 1 361.64,103.10M360.27,101.82L366.86,94.70M361.64,103.10A184.30,184.30 0 0 1 362.99,104.39M362.99,104.39L369.73,97.42M351.02,119.82A164.90,164.90 0 0 1 355.41,124.33M355.41,124.33L362.49,117.70M360.03,115.13A174.60,174.60 0 0 1 362.49,117.70M360.03,115.13L366.98,108.36M365.67,107.03A184.30,184.30 0 0 1 366.98,108.36M365.67,107.03L372.54,100.19M366.98,108.36A184.30,184.30 0 0 1 368.28,109.71M368.28,109.71L375.30,103.01M362.49,117.70A174.60,174.60 0 0 1 364.89,120.32M364.89,120.32L372.11,113.84M370.85,112.45A184.30,184.30 0 0 1 372.11,113.84M370.85,112.45L378.00,105.90M372.11,113.84A184.30,184.30 0 0 1 373.35,115.24M373.35,115.24L380.63,108.83" fill="none" stroke="#abafd0" stroke-width="1.05"/>
<path d="M235.00,237.00L307.55,188.44M304.74,184.49A87.30,87.30 0 0 1 307.55,188.44M304.74,184.49L366.73,137.81M363.65,133.84A164.90,164.90 0 0 1 366.73,137.81M363.65,133.84L371.21,127.77M369.53,125.70A174.60,174.60 0 0 1 371.21,127.77M369.53,125.70L377.00,119.52M375.80,118.08A184.30,184.30 0 0 1 377.00,119.52M375.80,118.08L383.21,111.82M377.00,119.52A184.30,184.30 0 0 1 378.19,120.97M378.19,120.97L385.73,114.86M371.21,127.77A174.60,174.60 0 0 1 372.86,129.86M372.86,129.86L388.18,117.96M366.73,137.81A164.90,164.90 0 0 1 369.70,141.88M369.70,141.88L377.62,136.28M376.07,134.12A174.60,174.60 0 0 1 377.62,136.28M376.07,134.12L383.91,128.40M382.79,126.89A184.30,184.30 0 0 1 383.91,128.40M382.79,126.89L390.57,121.10M383.91,128.40A184.30,184.30 0 0 1 385.00,129.92M385.00,129.92L392.90,124.29M377.62,136.28A174.60,174.60 0 0 1 379.14,138.47M379.14,138.47L395.16,127.52M307.55,188.44A87.30,87.30 0 0 1 310.13,192.54M310.13,192.54L318.48,187.61M316.18,183.90A97.00,97.00 0 0 1 318.48,187.61M316.18,183.90L397.35,130.81M318.48,187.61A97.00,97.00 0 0 1 320.62,191.41M320.62,191.41L329.18,186.85M326.04,181.35A106.70,106.70 0 0 1 329.18,186.85M326.04,181.35L392.24,140.87M391.26,139.28A184.30,184.30 0 0 1 392.24,140.87M391.26,139.28L399.48,134.13M392.24,140.87A184.30,184.30 0 0 1 393.21,142.48M393.21,142.48L401.54,137.50M329.18,186.85A106.70,106.70 0 0 1 331.99,192.52M331.99,192.52L340.81,188.48M337.83,182.46A116.40,116.40 0 0 1 340.81,188.48M337.83,182.46L389.25,155.19M387.55,152.07A174.60,174.60 0 0 1 389.25,155.19M387.55,152.07L396.03,147.35M395.10,145.71A184.30,184.30 0 0 1 396.03,147.35M395.10,145.71L403.53,140.91M396.03,147.35A184.30,184.30 0 0 1 396.93,148.99M396.93,148.99L405.45,144.36M389.25,155.19A174.60,174.60 0 0 1 390.88,158.34M390.88,158.34L399.54,153.98M398.69,152.31A184.30,184.30 0 0 1 399.54,153.98M398.69,152.31L407.30,147.85M399.54,153.98A184.30,184.30 0 0 1 400.38,155.65M400.38,155.65L409.08,151.37M340.81,188.48A116.40,116.40 0 0 1 343.43,194.67M343.43,194.67L352.46,191.14M350.06,185.41A126.10,126.10 0 0 1 352.46,191.14M350.06,185.41L394.32,165.56M393.21,163.14A174.60,174.60 0 0 1 394.32,165.56M393.21,163.14L410.79,154.93M394.32,165.56A174.60,174.60 0 0 1 395.39,168.00M395.39,168.00L404.30,164.17M403.55,162.45A184.30,184.30 0 0 1 404.30,164.17M403.55,162.45L412.42,158.53M404.30,164.17A184.30,184.30 0 0 1 405.03,165.90M405.03,165.90L413.98,162.15M352.46,191.14A126.10,126.10 0 0 1 354.58,196.98M354.58,196.98L363.78,193.90M361.83,188.46A135.80,135.80 0 0 1 363.78,193.90M361.83,188.46L407.12,171.12M406.44,169.37A184.30,184.30 0 0 1 407.12,171.12M406.44,169.37L415.47,165.81M407.12,171.12A184.30,184.30 0 0 1 407.78,172.87M407.78,172.87L416.88,169.50M363.78,193.90A135.80,135.80 0 0 1 365.50,199.43M365.50,199.43L374.82,196.74M372.89,190.56A145.50,145.50 0 0 1 374.82,196.74M372.89,190.56L409.66,178.18M409.05,176.40A184.30,184.30 0 0 1 409.66,178.18M409.05,176.40L418.21,173.21M409.66,178.18A184.30,184.30 0 0 1 410.25,179.96M410.25,179.96L419.47,176.95M374.82,196.74A145.50,145.50 0 0 1 376.47,203.00M376.47,203.00L385.90,200.74M384.20,194.25A155.20,155.20 0 0 1 385.90,200.74M384.20,194.25L402.85,188.90M402.09,186.35A174.60,174.60 0 0 1 402.85,188.90M402.09,186.35L420.66,180.72M402.85,188.90A174.60,174.60 0 0 1 403.56,191.47M403.56,191.47L412.92,188.94M412.43,187.13A184.30,184.30 0 0 1 412.92,188.94M412.43,187.13L421.76,184.51M412.92,188.94A184.30,184.30 0 0 1 413.40,190.76M413.40,190.76L422.79,188.32M385.90,200.74A155.20,155.20 0 0 1 387.33,207.30M387.33,207.30L396.85,205.44M395.81,200.51A164.90,164.90 0 0 1 396.85,205.44M395.81,200.51L414.73,196.22M414.31,194.40A184.30,184.30 0 0 1 414.73,196.22M414.31,194.40L423.75,192.15M414.73,196.22A184.30,184.30 0 0 1 415.14,198.05M415.14,198.05L424.62,196.00M396.85,205.44A164.90,164.90 0 0 1 397.74,210.39M397.74,210.39L407.31,208.83M406.70,205.33A174.60,174.60 0 0 1 407.31,208.83M406.70,205.33L416.24,203.57M415.89,201.73A184.30,184.30 0 0 1 416.24,203.57M415.89,201.73L425.41,199.87M416.24,203.57A184.30,184.30 0 0 1 416.57,205.41M416.57,205.41L426.13,203.75M407.31,208.83A174.60,174.60 0 0 1 407.85,212.34M407.85,212.34L417.45,210.97M417.18,209.12A184.30,184.30 0 0 1 417.45,210.97M417.18,209.12L426.77,207.65M417.45,210.97A184.30,184.30 0 0 1 417.71,212.83M417.71,212.83L427.32,211.56" fill="none" stroke="#f0a486" stroke-width="1.05"/>
<path d="M235.00,237.00L230.82,245.76" fill="none" stroke="#3a3a3a" stroke-width="1.5"/>
<path d="M457.77,226.95A223.0,223.0 0 0 1 116.24,425.74" fill="none" stroke="#1f9d7c" stroke-width="1.6"/>
<path d="M116.24,425.74A223.0,223.0 0 0 1 48.25,115.13" fill="none" stroke="#a8d650" stroke-width="1.6"/>
<path d="M48.25,115.13A223.0,223.0 0 0 1 403.89,91.38" fill="none" stroke="#8c9ccb" stroke-width="1.6"/>
<path d="M403.89,91.38A223.0,223.0 0 0 1 456.36,210.00" fill="none" stroke="#f88a5e" stroke-width="1.6"/>
<text x="351.55" y="436.44" text-anchor="middle" dominant-baseline="central" transform="rotate(149.70 351.55 436.44)" font-family="Liberation Serif, serif" font-size="10" letter-spacing="-0.9" fill="#1f9d7c">I</text>
<text x="9.39" y="286.60" text-anchor="middle" dominant-baseline="central" transform="rotate(257.60 9.39 286.60)" font-family="Liberation Serif, serif" font-size="10" letter-spacing="-0.9" fill="#a8d650">II</text>
<text x="220.50" y="6.46" text-anchor="middle" dominant-baseline="central" transform="rotate(356.40 220.50 6.46)" font-family="Liberation Serif, serif" font-size="10" letter-spacing="-0.9" fill="#8c9ccb">III</text>
<text x="446.52" y="144.15" text-anchor="middle" dominant-baseline="central" transform="rotate(426.30 446.52 144.15)" font-family="Liberation Serif, serif" font-size="10" letter-spacing="-0.9" fill="#f88a5e">IV</text>
<rect x="462.3" y="13.40" width="36.2" height="12.6" fill="#1b9e7b"/>
<text x="503.4" y="23.10" font-family="Liberation Serif, Times New Roman, serif" font-size="11.4" fill="#1e1e1e" stroke="#1e1e1e" stroke-width="0.2">Clade I</text>
<rect x="462.3" y="40.15" width="36.2" height="12.6" fill="#a8d64f"/>
<text x="503.4" y="50.60" font-family="Liberation Serif, Times New Roman, serif" font-size="11.4" fill="#1e1e1e" stroke="#1e1e1e" stroke-width="0.2">Clade II</text>
<rect x="462.3" y="66.90" width="36.2" height="12.6" fill="#8d9fcb"/>
<text x="503.4" y="78.20" font-family="Liberation Serif, Times New Roman, serif" font-size="11.4" fill="#1e1e1e" stroke="#1e1e1e" stroke-width="0.2">Clade III</text>
<rect x="462.3" y="93.65" width="36.2" height="12.6" fill="#fb8b60"/>
<text x="503.4" y="105.80" font-family="Liberation Serif, Times New Roman, serif" font-size="11.4" fill="#1e1e1e" stroke="#1e1e1e" stroke-width="0.2">Clade IV</text>
</svg>
</body></html>
